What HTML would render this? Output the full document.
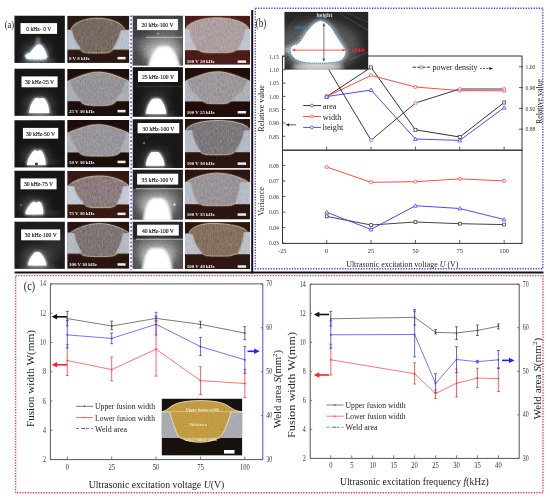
<!DOCTYPE html>
<html><head><meta charset="utf-8"><title>Figure</title>
<style>html,body{margin:0;padding:0;background:#fff;width:550px;height:501px;overflow:hidden;font-family:"Liberation Serif", serif;} svg{display:block;will-change:transform;}</style>
</head><body>
<svg width="550" height="501" viewBox="0 0 550 501" font-family='"Liberation Serif", serif'><defs>
<filter id="blur1" x="-50%" y="-50%" width="200%" height="200%"><feGaussianBlur stdDeviation="1"/></filter>
<filter id="blur2" x="-50%" y="-50%" width="200%" height="200%"><feGaussianBlur stdDeviation="2.2"/></filter>
<filter id="blur3" x="-50%" y="-50%" width="200%" height="200%"><feGaussianBlur stdDeviation="4"/></filter>
<filter id="blur05" x="-50%" y="-50%" width="200%" height="200%"><feGaussianBlur stdDeviation="0.45"/></filter>
<filter id="grain" x="0" y="0" width="100%" height="100%" color-interpolation-filters="sRGB">
  <feTurbulence type="fractalNoise" baseFrequency="0.7" numOctaves="2" seed="7"/>
  <feColorMatrix type="matrix" values="0.33 0.33 0.33 0 0  0.33 0.33 0.33 0 0  0.33 0.33 0.33 0 0  0 0 0 0 1"/>
</filter>
<filter id="grainv" x="0" y="0" width="100%" height="100%" color-interpolation-filters="sRGB">
  <feTurbulence type="fractalNoise" baseFrequency="0.8 0.3" numOctaves="2" seed="11"/>
  <feColorMatrix type="matrix" values="0.33 0.33 0.33 0 0  0.33 0.33 0.33 0 0  0.33 0.33 0.33 0 0  0 0 0 0 1"/>
</filter>
<filter id="noise" x="0" y="0" width="100%" height="100%">
  <feTurbulence type="fractalNoise" baseFrequency="0.9" numOctaves="2" seed="3" result="t"/>
  <feColorMatrix type="matrix" values="0 0 0 0 0.5  0 0 0 0 0.5  0 0 0 0 0.5  0 0 0 0.35 0"/>
</filter>
<clipPath id="cp1"><rect x="14.60" y="15.90" width="50.20" height="47.00"/></clipPath><clipPath id="cp2"><rect x="14.60" y="68.90" width="50.20" height="46.90"/></clipPath><clipPath id="cp3"><rect x="14.60" y="120.30" width="50.20" height="47.00"/></clipPath><clipPath id="cp4"><rect x="14.60" y="170.90" width="50.20" height="46.90"/></clipPath><clipPath id="cp5"><rect x="14.60" y="221.90" width="50.20" height="46.90"/></clipPath><clipPath id="cp6"><rect x="132.90" y="15.90" width="50.00" height="49.40"/></clipPath><clipPath id="cp7"><rect x="132.90" y="67.20" width="50.00" height="49.60"/></clipPath><clipPath id="cp8"><rect x="132.90" y="119.30" width="50.00" height="48.70"/></clipPath><clipPath id="cp9"><rect x="132.90" y="169.90" width="50.00" height="49.50"/></clipPath><clipPath id="cp10"><rect x="132.90" y="221.90" width="50.00" height="46.70"/></clipPath><clipPath id="cp11"><rect x="67.20" y="15.80" width="62.10" height="47.10"/></clipPath><clipPath id="cp12"><rect x="67.20" y="68.90" width="62.10" height="47.10"/></clipPath><clipPath id="cp13"><rect x="67.20" y="120.00" width="62.10" height="47.50"/></clipPath><clipPath id="cp14"><rect x="67.20" y="171.00" width="62.10" height="47.30"/></clipPath><clipPath id="cp15"><rect x="67.20" y="221.70" width="62.10" height="47.10"/></clipPath><clipPath id="cp16"><rect x="185.00" y="15.70" width="65.00" height="49.00"/></clipPath><clipPath id="cp17"><rect x="185.00" y="67.90" width="65.00" height="49.10"/></clipPath><clipPath id="cp18"><rect x="185.00" y="119.00" width="65.00" height="49.30"/></clipPath><clipPath id="cp19"><rect x="185.00" y="169.40" width="65.00" height="50.10"/></clipPath><clipPath id="cp20"><rect x="185.00" y="222.10" width="65.00" height="46.90"/></clipPath><clipPath id="cp21"><rect x="284.30" y="11.80" width="84.10" height="58.00"/></clipPath><clipPath id="cp22"><rect x="161.60" y="398.60" width="80.70" height="57.00"/></clipPath></defs><rect width="550" height="501" fill="#fff"/><g clip-path="url(#cp1)">
<rect x="14.60" y="15.90" width="50.20" height="47.00" fill="#161616"/>
<ellipse cx="37.0" cy="52.0" rx="14.0" ry="10.0" fill="#fff" opacity="0.22" filter="url(#blur3)"/>
<ellipse cx="38.0" cy="61.0" rx="18.0" ry="2.5" fill="#fff" opacity="0.25" filter="url(#blur2)"/>
<ellipse cx="38.0" cy="41.0" rx="2.5" ry="4.0" fill="#fff" opacity="0.35" filter="url(#blur1)"/>
<path d="M25.00,55.50 C24.83,56.28 25.40,57.42 26.00,58.10 C26.60,58.78 26.62,59.30 28.60,59.60 C30.58,59.90 35.13,59.93 37.90,59.90 C40.67,59.87 43.60,59.88 45.20,59.40 C46.80,58.92 47.23,57.92 47.50,57.00 C47.77,56.08 47.27,55.18 46.80,53.90 C46.33,52.62 45.48,50.68 44.70,49.30 C43.92,47.92 43.02,46.47 42.10,45.60 C41.18,44.73 40.15,44.18 39.20,44.10 C38.25,44.02 37.48,44.32 36.40,45.10 C35.32,45.88 33.83,47.58 32.70,48.80 C31.57,50.02 30.55,51.63 29.60,52.40 C28.65,53.17 27.77,52.88 27.00,53.40 C26.23,53.92 25.17,54.72 25.00,55.50 Z" fill="#fff" stroke="#fff" stroke-width="2.2" filter="url(#blur1)" opacity="0.55"/>
<path d="M25.00,55.50 C24.83,56.28 25.40,57.42 26.00,58.10 C26.60,58.78 26.62,59.30 28.60,59.60 C30.58,59.90 35.13,59.93 37.90,59.90 C40.67,59.87 43.60,59.88 45.20,59.40 C46.80,58.92 47.23,57.92 47.50,57.00 C47.77,56.08 47.27,55.18 46.80,53.90 C46.33,52.62 45.48,50.68 44.70,49.30 C43.92,47.92 43.02,46.47 42.10,45.60 C41.18,44.73 40.15,44.18 39.20,44.10 C38.25,44.02 37.48,44.32 36.40,45.10 C35.32,45.88 33.83,47.58 32.70,48.80 C31.57,50.02 30.55,51.63 29.60,52.40 C28.65,53.17 27.77,52.88 27.00,53.40 C26.23,53.92 25.17,54.72 25.00,55.50 Z" fill="#fff" filter="url(#blur05)"/>
<path d="M25.00,55.50 C24.83,56.28 25.40,57.42 26.00,58.10 C26.60,58.78 26.62,59.30 28.60,59.60 C30.58,59.90 35.13,59.93 37.90,59.90 C40.67,59.87 43.60,59.88 45.20,59.40 C46.80,58.92 47.23,57.92 47.50,57.00 C47.77,56.08 47.27,55.18 46.80,53.90 C46.33,52.62 45.48,50.68 44.70,49.30 C43.92,47.92 43.02,46.47 42.10,45.60 C41.18,44.73 40.15,44.18 39.20,44.10 C38.25,44.02 37.48,44.32 36.40,45.10 C35.32,45.88 33.83,47.58 32.70,48.80 C31.57,50.02 30.55,51.63 29.60,52.40 C28.65,53.17 27.77,52.88 27.00,53.40 C26.23,53.92 25.17,54.72 25.00,55.50 Z" fill="none" stroke="#2a8fd8" stroke-width="0.9" stroke-dasharray="1.2 0.6"/>
<rect x="14.60" y="15.90" width="50.20" height="47.00" filter="url(#grain)" style="mix-blend-mode:overlay" opacity="0.35"/>
<rect x="20.5" y="23.1" width="36.6" height="10.8" fill="#fff"/>
<text x="38.8" y="31.0" font-size="6.9" fill="#1a1a1a" text-anchor="middle" textLength="25.0" lengthAdjust="spacingAndGlyphs" stroke="#1a1a1a" stroke-width="0.18">0 kHz- 0 V</text>
</g>
<g clip-path="url(#cp2)">
<rect x="14.60" y="68.90" width="50.20" height="46.90" fill="#161616"/>
<ellipse cx="39.0" cy="105.0" rx="15.0" ry="11.0" fill="#fff" opacity="0.20" filter="url(#blur3)"/>
<ellipse cx="39.0" cy="114.0" rx="18.0" ry="2.5" fill="#fff" opacity="0.20" filter="url(#blur2)"/>
<path d="M29.23,112.10 C29.08,110.84 30.02,107.46 30.84,105.35 C31.65,103.25 33.12,100.70 34.13,99.48 C35.14,98.25 35.98,98.15 36.91,98.01 C37.83,97.86 38.76,98.61 39.68,98.61 C40.60,98.61 41.53,97.86 42.45,98.01 C43.38,98.15 44.29,98.25 45.23,99.48 C46.16,100.70 47.38,103.25 48.05,105.35 C48.72,107.46 49.48,110.84 49.27,112.10 C49.06,113.36 49.69,112.77 46.77,112.90 C43.85,113.03 34.65,113.03 31.73,112.90 C28.81,112.77 29.38,113.36 29.23,112.10 Z" fill="#fff" stroke="#fff" stroke-width="2.2" filter="url(#blur1)" opacity="0.55"/>
<path d="M29.23,112.10 C29.08,110.84 30.02,107.46 30.84,105.35 C31.65,103.25 33.12,100.70 34.13,99.48 C35.14,98.25 35.98,98.15 36.91,98.01 C37.83,97.86 38.76,98.61 39.68,98.61 C40.60,98.61 41.53,97.86 42.45,98.01 C43.38,98.15 44.29,98.25 45.23,99.48 C46.16,100.70 47.38,103.25 48.05,105.35 C48.72,107.46 49.48,110.84 49.27,112.10 C49.06,113.36 49.69,112.77 46.77,112.90 C43.85,113.03 34.65,113.03 31.73,112.90 C28.81,112.77 29.38,113.36 29.23,112.10 Z" fill="#fff" filter="url(#blur05)"/>
<rect x="14.60" y="68.90" width="50.20" height="46.90" filter="url(#grain)" style="mix-blend-mode:overlay" opacity="0.35"/>
<rect x="21.5" y="76.4" width="36.1" height="10.9" fill="#fff"/>
<text x="39.5" y="84.3" font-size="6.9" fill="#1a1a1a" text-anchor="middle" textLength="29.2" lengthAdjust="spacingAndGlyphs" stroke="#1a1a1a" stroke-width="0.18">30 kHz-25 V</text>
</g>
<g clip-path="url(#cp3)">
<rect x="14.60" y="120.30" width="50.20" height="47.00" fill="#141414"/>
<ellipse cx="36.0" cy="157.0" rx="14.0" ry="10.0" fill="#fff" opacity="0.20" filter="url(#blur3)"/>
<ellipse cx="45.0" cy="162.0" rx="16.0" ry="2.0" fill="#fff" opacity="0.12" filter="url(#blur2)"/>
<path d="M27.03,164.10 C26.94,162.86 28.06,159.52 29.02,157.45 C29.98,155.37 31.77,152.85 32.79,151.64 C33.81,150.43 34.35,150.27 35.13,150.19 C35.91,150.12 36.69,151.19 37.48,151.19 C38.26,151.19 39.04,150.12 39.82,150.19 C40.60,150.27 41.34,150.43 42.16,151.64 C42.98,152.85 44.15,155.37 44.75,157.45 C45.35,159.52 46.02,162.86 45.77,164.10 C45.53,165.34 45.98,164.77 43.27,164.90 C40.57,165.03 32.23,165.03 29.53,164.90 C26.82,164.77 27.11,165.34 27.03,164.10 Z" fill="#fff" stroke="#fff" stroke-width="2.2" filter="url(#blur1)" opacity="0.55"/>
<path d="M27.03,164.10 C26.94,162.86 28.06,159.52 29.02,157.45 C29.98,155.37 31.77,152.85 32.79,151.64 C33.81,150.43 34.35,150.27 35.13,150.19 C35.91,150.12 36.69,151.19 37.48,151.19 C38.26,151.19 39.04,150.12 39.82,150.19 C40.60,150.27 41.34,150.43 42.16,151.64 C42.98,152.85 44.15,155.37 44.75,157.45 C45.35,159.52 46.02,162.86 45.77,164.10 C45.53,165.34 45.98,164.77 43.27,164.90 C40.57,165.03 32.23,165.03 29.53,164.90 C26.82,164.77 27.11,165.34 27.03,164.10 Z" fill="#fff" filter="url(#blur05)"/>
<ellipse cx="36.4" cy="164.0" rx="1.5" ry="1.6" fill="#333" filter="url(#blur05)"/>
<rect x="14.60" y="120.30" width="50.20" height="47.00" filter="url(#grain)" style="mix-blend-mode:overlay" opacity="0.35"/>
<rect x="22.9" y="127.9" width="35.3" height="10.8" fill="#fff"/>
<text x="40.5" y="135.8" font-size="6.9" fill="#1a1a1a" text-anchor="middle" textLength="29.2" lengthAdjust="spacingAndGlyphs" stroke="#1a1a1a" stroke-width="0.18">30 kHz-50 V</text>
</g>
<g clip-path="url(#cp4)">
<rect x="14.60" y="170.90" width="50.20" height="46.90" fill="#161616"/>
<ellipse cx="34.0" cy="207.0" rx="14.0" ry="10.0" fill="#fff" opacity="0.20" filter="url(#blur3)"/>
<ellipse cx="44.0" cy="213.0" rx="18.0" ry="2.0" fill="#fff" opacity="0.14" filter="url(#blur2)"/>
<circle cx="21.1" cy="204.8" r="0.9" fill="#fff" opacity="0.5" filter="url(#blur05)"/>
<path d="M25.36,213.60 C25.31,212.52 26.53,209.71 27.58,207.92 C28.63,206.14 30.57,203.95 31.63,202.90 C32.70,201.85 33.20,201.69 33.98,201.64 C34.76,201.60 35.54,202.64 36.32,202.64 C37.10,202.64 37.88,201.60 38.66,201.64 C39.45,201.69 40.31,201.85 41.01,202.90 C41.70,203.95 42.47,206.14 42.84,207.92 C43.21,209.71 43.59,212.52 43.24,213.60 C42.90,214.68 43.31,214.27 40.74,214.40 C38.18,214.53 30.42,214.53 27.86,214.40 C25.29,214.27 25.40,214.68 25.36,213.60 Z" fill="#fff" stroke="#fff" stroke-width="2.2" filter="url(#blur1)" opacity="0.55"/>
<path d="M25.36,213.60 C25.31,212.52 26.53,209.71 27.58,207.92 C28.63,206.14 30.57,203.95 31.63,202.90 C32.70,201.85 33.20,201.69 33.98,201.64 C34.76,201.60 35.54,202.64 36.32,202.64 C37.10,202.64 37.88,201.60 38.66,201.64 C39.45,201.69 40.31,201.85 41.01,202.90 C41.70,203.95 42.47,206.14 42.84,207.92 C43.21,209.71 43.59,212.52 43.24,213.60 C42.90,214.68 43.31,214.27 40.74,214.40 C38.18,214.53 30.42,214.53 27.86,214.40 C25.29,214.27 25.40,214.68 25.36,213.60 Z" fill="#fff" filter="url(#blur05)"/>
<rect x="14.60" y="170.90" width="50.20" height="46.90" filter="url(#grain)" style="mix-blend-mode:overlay" opacity="0.35"/>
<rect x="20.5" y="178.4" width="36.1" height="10.9" fill="#fff"/>
<text x="38.5" y="186.4" font-size="6.9" fill="#1a1a1a" text-anchor="middle" textLength="29.2" lengthAdjust="spacingAndGlyphs" stroke="#1a1a1a" stroke-width="0.18">30 kHz-75 V</text>
</g>
<g clip-path="url(#cp5)">
<rect x="14.60" y="221.90" width="50.20" height="46.90" fill="#1c1c1c"/>
<ellipse cx="37.0" cy="258.0" rx="15.0" ry="11.0" fill="#fff" opacity="0.22" filter="url(#blur3)"/>
<ellipse cx="38.0" cy="267.0" rx="18.0" ry="2.5" fill="#fff" opacity="0.22" filter="url(#blur2)"/>
<ellipse cx="55.0" cy="245.0" rx="10.0" ry="14.0" fill="#fff" opacity="0.08" filter="url(#blur3)"/>
<path d="M27.99,264.60 C27.91,263.48 29.05,260.54 30.02,258.69 C31.00,256.84 32.91,254.57 33.84,253.48 C34.77,252.40 35.03,252.40 35.62,252.18 C36.22,251.96 36.81,252.18 37.41,252.18 C38.00,252.18 38.60,251.96 39.19,252.18 C39.79,252.40 40.09,252.40 40.98,253.48 C41.86,254.57 43.62,256.84 44.51,258.69 C45.40,260.54 46.43,263.48 46.31,264.60 C46.19,265.72 46.45,265.27 43.81,265.40 C41.17,265.53 33.13,265.53 30.49,265.40 C27.85,265.27 28.07,265.72 27.99,264.60 Z" fill="#fff" stroke="#fff" stroke-width="2.2" filter="url(#blur1)" opacity="0.55"/>
<path d="M27.99,264.60 C27.91,263.48 29.05,260.54 30.02,258.69 C31.00,256.84 32.91,254.57 33.84,253.48 C34.77,252.40 35.03,252.40 35.62,252.18 C36.22,251.96 36.81,252.18 37.41,252.18 C38.00,252.18 38.60,251.96 39.19,252.18 C39.79,252.40 40.09,252.40 40.98,253.48 C41.86,254.57 43.62,256.84 44.51,258.69 C45.40,260.54 46.43,263.48 46.31,264.60 C46.19,265.72 46.45,265.27 43.81,265.40 C41.17,265.53 33.13,265.53 30.49,265.40 C27.85,265.27 28.07,265.72 27.99,264.60 Z" fill="#fff" filter="url(#blur05)"/>
<rect x="14.60" y="221.90" width="50.20" height="46.90" filter="url(#grain)" style="mix-blend-mode:overlay" opacity="0.35"/>
<rect x="21.1" y="229.4" width="39.1" height="10.9" fill="#fff"/>
<text x="40.7" y="237.4" font-size="6.9" fill="#1a1a1a" text-anchor="middle" textLength="32.0" lengthAdjust="spacingAndGlyphs" stroke="#1a1a1a" stroke-width="0.18">30 kHz-100 V</text>
</g>
<g clip-path="url(#cp6)">
<rect x="132.90" y="15.90" width="50.00" height="49.40" fill="#3e3e3e"/>
<rect x="132.90" y="37.30" width="50.00" height="28.00" fill="#484848"/>
<ellipse cx="163.0" cy="55.0" rx="17.0" ry="12.0" fill="#fff" opacity="0.60" filter="url(#blur3)"/>
<ellipse cx="160.0" cy="46.0" rx="22.0" ry="12.0" fill="#fff" opacity="0.30" filter="url(#blur3)"/>
<ellipse cx="170.0" cy="30.0" rx="14.0" ry="10.0" fill="#fff" opacity="0.12" filter="url(#blur3)"/>
<rect x="146.0" y="36.7" width="37.0" height="1.2" fill="#fff" opacity="0.45" filter="url(#blur05)"/>
<circle cx="158" cy="33.5" r="0.8" fill="#fff" opacity="0.7" filter="url(#blur05)"/>
<path d="M149.00,65.90 C149.08,64.24 150.67,59.58 152.00,56.75 C153.33,53.92 155.58,50.58 157.00,48.95 C158.42,47.33 159.33,47.33 160.50,47.00 C161.67,46.67 162.83,47.00 164.00,47.00 C165.17,47.00 166.33,46.67 167.50,47.00 C168.67,47.33 169.58,47.33 171.00,48.95 C172.42,50.58 174.67,53.92 176.00,56.75 C177.33,59.58 178.92,64.24 179.00,65.90 C179.08,67.56 181.08,66.57 176.50,66.70 C171.92,66.83 156.08,66.83 151.50,66.70 C146.92,66.57 148.92,67.56 149.00,65.90 Z" fill="#fff" stroke="#fff" stroke-width="2.2" filter="url(#blur1)" opacity="0.55"/>
<path d="M149.00,65.90 C149.08,64.24 150.67,59.58 152.00,56.75 C153.33,53.92 155.58,50.58 157.00,48.95 C158.42,47.33 159.33,47.33 160.50,47.00 C161.67,46.67 162.83,47.00 164.00,47.00 C165.17,47.00 166.33,46.67 167.50,47.00 C168.67,47.33 169.58,47.33 171.00,48.95 C172.42,50.58 174.67,53.92 176.00,56.75 C177.33,59.58 178.92,64.24 179.00,65.90 C179.08,67.56 181.08,66.57 176.50,66.70 C171.92,66.83 156.08,66.83 151.50,66.70 C146.92,66.57 148.92,67.56 149.00,65.90 Z" fill="#fff" filter="url(#blur1)"/>
<rect x="132.90" y="15.90" width="50.00" height="49.40" filter="url(#grain)" style="mix-blend-mode:overlay" opacity="0.35"/>
<rect x="137.1" y="19.0" width="40.8" height="11.1" fill="#fff"/>
<text x="157.5" y="27.1" font-size="6.9" fill="#1a1a1a" text-anchor="middle" textLength="32.0" lengthAdjust="spacingAndGlyphs" stroke="#1a1a1a" stroke-width="0.18">20 kHz-100 V</text>
</g>
<g clip-path="url(#cp7)">
<rect x="132.90" y="67.20" width="50.00" height="49.60" fill="#161616"/>
<ellipse cx="156.0" cy="106.0" rx="13.0" ry="10.0" fill="#fff" opacity="0.18" filter="url(#blur3)"/>
<ellipse cx="158.0" cy="115.0" rx="18.0" ry="2.5" fill="#fff" opacity="0.20" filter="url(#blur2)"/>
<ellipse cx="158.0" cy="92.0" rx="14.0" ry="8.0" fill="#fff" opacity="0.05" filter="url(#blur3)"/>
<rect x="136.0" y="85.9" width="47.0" height="1.2" fill="#fff" opacity="0.1" filter="url(#blur05)"/>
<path d="M146.16,113.10 C146.02,111.81 146.98,108.33 147.82,106.17 C148.66,104.01 150.20,101.40 151.18,100.14 C152.16,98.89 152.86,98.89 153.71,98.63 C154.55,98.38 155.39,98.63 156.24,98.63 C157.08,98.63 157.92,98.38 158.77,98.63 C159.61,98.89 160.33,98.89 161.30,100.14 C162.26,101.40 163.75,104.01 164.56,106.17 C165.37,108.33 166.29,111.81 166.14,113.10 C165.98,114.39 166.55,113.77 163.64,113.90 C160.73,114.03 151.57,114.03 148.66,113.90 C145.75,113.77 146.30,114.39 146.16,113.10 Z" fill="#fff" stroke="#fff" stroke-width="2.2" filter="url(#blur1)" opacity="0.55"/>
<path d="M146.16,113.10 C146.02,111.81 146.98,108.33 147.82,106.17 C148.66,104.01 150.20,101.40 151.18,100.14 C152.16,98.89 152.86,98.89 153.71,98.63 C154.55,98.38 155.39,98.63 156.24,98.63 C157.08,98.63 157.92,98.38 158.77,98.63 C159.61,98.89 160.33,98.89 161.30,100.14 C162.26,101.40 163.75,104.01 164.56,106.17 C165.37,108.33 166.29,111.81 166.14,113.10 C165.98,114.39 166.55,113.77 163.64,113.90 C160.73,114.03 151.57,114.03 148.66,113.90 C145.75,113.77 146.30,114.39 146.16,113.10 Z" fill="#fff" filter="url(#blur05)"/>
<rect x="132.90" y="67.20" width="50.00" height="49.60" filter="url(#grain)" style="mix-blend-mode:overlay" opacity="0.35"/>
<rect x="138.0" y="71.0" width="40.0" height="11.0" fill="#fff"/>
<text x="158.0" y="79.0" font-size="6.9" fill="#1a1a1a" text-anchor="middle" textLength="32.0" lengthAdjust="spacingAndGlyphs" stroke="#1a1a1a" stroke-width="0.18">25 kHz-100 V</text>
</g>
<g clip-path="url(#cp8)">
<rect x="132.90" y="119.30" width="50.00" height="48.70" fill="#181818"/>
<ellipse cx="155.0" cy="158.0" rx="13.0" ry="9.0" fill="#fff" opacity="0.18" filter="url(#blur3)"/>
<ellipse cx="156.0" cy="167.0" rx="18.0" ry="2.5" fill="#fff" opacity="0.20" filter="url(#blur2)"/>
<circle cx="144" cy="143" r="1.2" fill="#fff" opacity="0.35" filter="url(#blur05)"/>
<circle cx="147" cy="137" r="0.6" fill="#fff" opacity="0.4" filter="url(#blur05)"/>
<path d="M146.05,164.90 C145.85,163.75 146.63,160.71 147.32,158.80 C148.00,156.90 149.31,154.56 150.19,153.45 C151.07,152.33 151.80,152.33 152.61,152.11 C153.42,151.88 154.22,152.11 155.03,152.11 C155.84,152.11 156.64,151.88 157.45,152.11 C158.26,152.33 158.95,152.33 159.87,153.45 C160.79,154.56 162.22,156.90 162.99,158.80 C163.75,160.71 164.62,163.75 164.45,164.90 C164.27,166.05 164.59,165.57 161.95,165.70 C159.30,165.83 151.20,165.83 148.55,165.70 C145.91,165.57 146.26,166.05 146.05,164.90 Z" fill="#fff" stroke="#fff" stroke-width="2.2" filter="url(#blur1)" opacity="0.55"/>
<path d="M146.05,164.90 C145.85,163.75 146.63,160.71 147.32,158.80 C148.00,156.90 149.31,154.56 150.19,153.45 C151.07,152.33 151.80,152.33 152.61,152.11 C153.42,151.88 154.22,152.11 155.03,152.11 C155.84,152.11 156.64,151.88 157.45,152.11 C158.26,152.33 158.95,152.33 159.87,153.45 C160.79,154.56 162.22,156.90 162.99,158.80 C163.75,160.71 164.62,163.75 164.45,164.90 C164.27,166.05 164.59,165.57 161.95,165.70 C159.30,165.83 151.20,165.83 148.55,165.70 C145.91,165.57 146.26,166.05 146.05,164.90 Z" fill="#fff" filter="url(#blur05)"/>
<rect x="132.90" y="119.30" width="50.00" height="48.70" filter="url(#grain)" style="mix-blend-mode:overlay" opacity="0.35"/>
<rect x="137.6" y="123.0" width="41.7" height="10.2" fill="#fff"/>
<text x="158.4" y="130.6" font-size="6.9" fill="#1a1a1a" text-anchor="middle" textLength="32.0" lengthAdjust="spacingAndGlyphs" stroke="#1a1a1a" stroke-width="0.18">30 kHz-100 V</text>
</g>
<g clip-path="url(#cp9)">
<rect x="132.90" y="169.90" width="50.00" height="49.50" fill="#1e1e1e"/>
<rect x="132.90" y="188.70" width="50.00" height="30.70" fill="#4c4c4c"/>
<ellipse cx="157.0" cy="208.0" rx="16.0" ry="11.0" fill="#fff" opacity="0.60" filter="url(#blur3)"/>
<ellipse cx="157.0" cy="200.0" rx="22.0" ry="12.0" fill="#fff" opacity="0.30" filter="url(#blur3)"/>
<rect x="136.0" y="188.1" width="47.0" height="1.2" fill="#fff" opacity="0.55" filter="url(#blur05)"/>
<circle cx="174.5" cy="204.5" r="1.1" fill="#fff" opacity="0.9" filter="url(#blur05)"/>
<path d="M144.00,219.40 C143.93,217.62 145.10,212.55 146.10,209.50 C147.10,206.45 148.72,202.85 150.00,201.10 C151.28,199.35 152.50,199.35 153.75,199.00 C155.00,198.65 156.25,199.00 157.50,199.00 C158.75,199.00 160.00,198.65 161.25,199.00 C162.50,199.35 163.72,199.35 165.00,201.10 C166.28,202.85 167.90,206.45 168.90,209.50 C169.90,212.55 171.07,217.62 171.00,219.40 C170.93,221.18 172.58,220.07 168.50,220.20 C164.42,220.33 150.58,220.33 146.50,220.20 C142.42,220.07 144.07,221.18 144.00,219.40 Z" fill="#fff" stroke="#fff" stroke-width="2.2" filter="url(#blur1)" opacity="0.55"/>
<path d="M144.00,219.40 C143.93,217.62 145.10,212.55 146.10,209.50 C147.10,206.45 148.72,202.85 150.00,201.10 C151.28,199.35 152.50,199.35 153.75,199.00 C155.00,198.65 156.25,199.00 157.50,199.00 C158.75,199.00 160.00,198.65 161.25,199.00 C162.50,199.35 163.72,199.35 165.00,201.10 C166.28,202.85 167.90,206.45 168.90,209.50 C169.90,212.55 171.07,217.62 171.00,219.40 C170.93,221.18 172.58,220.07 168.50,220.20 C164.42,220.33 150.58,220.33 146.50,220.20 C142.42,220.07 144.07,221.18 144.00,219.40 Z" fill="#fff" filter="url(#blur1)"/>
<rect x="132.90" y="169.90" width="50.00" height="49.50" filter="url(#grain)" style="mix-blend-mode:overlay" opacity="0.35"/>
<rect x="137.1" y="173.7" width="41.1" height="10.9" fill="#fff"/>
<text x="157.6" y="181.6" font-size="6.9" fill="#1a1a1a" text-anchor="middle" textLength="32.0" lengthAdjust="spacingAndGlyphs" stroke="#1a1a1a" stroke-width="0.18">35 kHz-100 V</text>
</g>
<g clip-path="url(#cp10)">
<rect x="132.90" y="221.90" width="50.00" height="46.70" fill="#262626"/>
<rect x="132.90" y="239.20" width="50.00" height="29.40" fill="#525252"/>
<ellipse cx="157.0" cy="258.0" rx="16.0" ry="11.0" fill="#fff" opacity="0.60" filter="url(#blur3)"/>
<ellipse cx="158.0" cy="250.0" rx="22.0" ry="12.0" fill="#fff" opacity="0.30" filter="url(#blur3)"/>
<rect x="136.0" y="238.6" width="47.0" height="1.2" fill="#fff" opacity="0.55" filter="url(#blur05)"/>
<path d="M143.00,268.90 C142.93,267.16 144.10,262.23 145.10,259.25 C146.10,256.27 147.68,252.76 149.00,251.05 C150.32,249.34 151.67,249.34 153.00,249.00 C154.33,248.66 155.67,249.00 157.00,249.00 C158.33,249.00 159.67,248.66 161.00,249.00 C162.33,249.34 163.64,249.34 165.00,251.05 C166.36,252.76 168.09,256.27 169.17,259.25 C170.26,262.23 171.53,267.16 171.50,268.90 C171.47,270.64 173.33,269.57 169.00,269.70 C164.67,269.83 149.83,269.83 145.50,269.70 C141.17,269.57 143.07,270.64 143.00,268.90 Z" fill="#fff" stroke="#fff" stroke-width="2.2" filter="url(#blur1)" opacity="0.55"/>
<path d="M143.00,268.90 C142.93,267.16 144.10,262.23 145.10,259.25 C146.10,256.27 147.68,252.76 149.00,251.05 C150.32,249.34 151.67,249.34 153.00,249.00 C154.33,248.66 155.67,249.00 157.00,249.00 C158.33,249.00 159.67,248.66 161.00,249.00 C162.33,249.34 163.64,249.34 165.00,251.05 C166.36,252.76 168.09,256.27 169.17,259.25 C170.26,262.23 171.53,267.16 171.50,268.90 C171.47,270.64 173.33,269.57 169.00,269.70 C164.67,269.83 149.83,269.83 145.50,269.70 C141.17,269.57 143.07,270.64 143.00,268.90 Z" fill="#fff" filter="url(#blur1)"/>
<rect x="132.90" y="221.90" width="50.00" height="46.70" filter="url(#grain)" style="mix-blend-mode:overlay" opacity="0.35"/>
<rect x="137.1" y="224.7" width="41.7" height="10.9" fill="#fff"/>
<text x="157.9" y="232.6" font-size="6.9" fill="#1a1a1a" text-anchor="middle" textLength="32.0" lengthAdjust="spacingAndGlyphs" stroke="#1a1a1a" stroke-width="0.18">40 kHz-100 V</text>
</g>
<g clip-path="url(#cp11)">
<rect x="67.20" y="15.80" width="62.10" height="47.10" fill="#2a1812"/>
<polygon points="67.20,29.80 129.30,29.80 129.30,49.50 67.20,49.50" fill="#b8c0cc"/>
<path d="M71.00,29.80 C72.07,23.42 84.38,18.20 97.75,18.20 C111.12,18.20 123.43,23.42 124.50,29.80 L120.00,29.80 C119.00,39.65 113.20,46.50 111.70,49.50 L113.00,49.50 C110.36,53.00 106.40,53.00 96.50,53.00 C86.60,53.00 82.64,53.00 80.00,49.50 L82.00,49.50 C80.50,46.50 73.50,39.65 72.50,29.80 Z" fill="#766a62" filter="url(#blur1)"/>
<path d="M71.00,29.80 C72.07,23.42 84.38,18.20 97.75,18.20 C111.12,18.20 123.43,23.42 124.50,29.80 L120.00,29.80 C119.00,39.65 113.20,46.50 111.70,49.50 L113.00,49.50 C110.36,53.00 106.40,53.00 96.50,53.00 C86.60,53.00 82.64,53.00 80.00,49.50 L82.00,49.50 C80.50,46.50 73.50,39.65 72.50,29.80 Z" fill="#766a62"/>
<path d="M71.00,29.80 C72.07,23.42 84.38,18.20 97.75,18.20 C111.12,18.20 123.43,23.42 124.50,29.80" fill="none" stroke="#d4bc98" stroke-width="0.8"/>
<path d="M111.70,49.50 L113.00,49.50 C110.36,53.00 106.40,53.00 96.50,53.00 C86.60,53.00 82.64,53.00 80.00,49.50" fill="none" stroke="#d4bc98" stroke-width="0.7"/>
<line x1="67.20" y1="49.80" x2="80.00" y2="49.80" stroke="#d4bc98" stroke-width="0.5" opacity="0.6"/>
<line x1="113.00" y1="49.80" x2="129.30" y2="49.80" stroke="#d4bc98" stroke-width="0.5" opacity="0.6"/>
<rect x="67.20" y="15.80" width="62.10" height="47.10" filter="url(#grainv)" style="mix-blend-mode:overlay" opacity="0.4"/>
<text x="69.0" y="59.7" font-size="4.9" fill="#f4f4f4" text-anchor="start" font-weight="bold" >0 V 0 kHz</text>
<rect x="117.50" y="56.90" width="8.07" height="2.5" fill="#eee"/>
</g>
<g clip-path="url(#cp12)">
<rect x="67.20" y="68.90" width="62.10" height="47.10" fill="#1c0e0b"/>
<polygon points="67.20,80.80 129.30,80.80 129.30,101.00 67.20,101.00" fill="#aaaeb6"/>
<path d="M68.80,80.80 C80.72,76.02 89.66,72.10 98.60,72.10 C107.54,72.10 116.48,76.02 128.40,80.80 L125.00,80.80 C124.00,90.90 115.50,98.00 114.00,101.00 L116.00,101.00 C113.16,105.40 108.90,105.40 98.25,105.40 C87.60,105.40 83.34,105.40 80.50,101.00 L82.00,101.00 C80.50,98.00 72.00,90.90 71.00,80.80 Z" fill="#979499" filter="url(#blur1)"/>
<path d="M68.80,80.80 C80.72,76.02 89.66,72.10 98.60,72.10 C107.54,72.10 116.48,76.02 128.40,80.80 L125.00,80.80 C124.00,90.90 115.50,98.00 114.00,101.00 L116.00,101.00 C113.16,105.40 108.90,105.40 98.25,105.40 C87.60,105.40 83.34,105.40 80.50,101.00 L82.00,101.00 C80.50,98.00 72.00,90.90 71.00,80.80 Z" fill="#979499"/>
<path d="M68.80,80.80 C80.72,76.02 89.66,72.10 98.60,72.10 C107.54,72.10 116.48,76.02 128.40,80.80" fill="none" stroke="#d4bc98" stroke-width="0.8"/>
<path d="M114.00,101.00 L116.00,101.00 C113.16,105.40 108.90,105.40 98.25,105.40 C87.60,105.40 83.34,105.40 80.50,101.00" fill="none" stroke="#d4bc98" stroke-width="0.7"/>
<line x1="67.20" y1="101.30" x2="80.50" y2="101.30" stroke="#d4bc98" stroke-width="0.5" opacity="0.6"/>
<line x1="116.00" y1="101.30" x2="129.30" y2="101.30" stroke="#d4bc98" stroke-width="0.5" opacity="0.6"/>
<rect x="67.20" y="68.90" width="62.10" height="47.10" filter="url(#grainv)" style="mix-blend-mode:overlay" opacity="0.4"/>
<text x="69.0" y="112.7" font-size="4.9" fill="#f4f4f4" text-anchor="start" font-weight="bold" >25 V 30 kHz</text>
<rect x="117.50" y="109.90" width="8.07" height="2.5" fill="#eee"/>
</g>
<g clip-path="url(#cp13)">
<rect x="67.20" y="120.00" width="62.10" height="47.50" fill="#1c0d0a"/>
<polygon points="67.20,132.50 129.30,132.50 129.30,152.30 67.20,152.30" fill="#acb0b8"/>
<path d="M68.50,132.50 C80.40,128.21 89.33,124.70 98.25,124.70 C107.17,124.70 116.10,128.21 128.00,132.50 L126.00,132.50 C125.00,142.40 119.50,149.30 118.00,152.30 L120.00,152.30 C116.72,156.00 111.80,156.00 99.50,156.00 C87.20,156.00 82.28,156.00 79.00,152.30 L80.00,152.30 C78.50,149.30 71.00,142.40 70.00,132.50 Z" fill="#98969c" filter="url(#blur1)"/>
<path d="M68.50,132.50 C80.40,128.21 89.33,124.70 98.25,124.70 C107.17,124.70 116.10,128.21 128.00,132.50 L126.00,132.50 C125.00,142.40 119.50,149.30 118.00,152.30 L120.00,152.30 C116.72,156.00 111.80,156.00 99.50,156.00 C87.20,156.00 82.28,156.00 79.00,152.30 L80.00,152.30 C78.50,149.30 71.00,142.40 70.00,132.50 Z" fill="#98969c"/>
<path d="M68.50,132.50 C80.40,128.21 89.33,124.70 98.25,124.70 C107.17,124.70 116.10,128.21 128.00,132.50" fill="none" stroke="#d4bc98" stroke-width="0.8"/>
<path d="M118.00,152.30 L120.00,152.30 C116.72,156.00 111.80,156.00 99.50,156.00 C87.20,156.00 82.28,156.00 79.00,152.30" fill="none" stroke="#d4bc98" stroke-width="0.7"/>
<line x1="67.20" y1="152.60" x2="79.00" y2="152.60" stroke="#d4bc98" stroke-width="0.5" opacity="0.6"/>
<line x1="120.00" y1="152.60" x2="129.30" y2="152.60" stroke="#d4bc98" stroke-width="0.5" opacity="0.6"/>
<rect x="67.20" y="120.00" width="62.10" height="47.50" filter="url(#grainv)" style="mix-blend-mode:overlay" opacity="0.4"/>
<text x="69.0" y="163.5" font-size="4.9" fill="#f4f4f4" text-anchor="start" font-weight="bold" >50 V 30 kHz</text>
<rect x="117.50" y="160.70" width="8.07" height="2.5" fill="#eee"/>
</g>
<g clip-path="url(#cp14)">
<rect x="67.20" y="171.00" width="62.10" height="47.30" fill="#361912"/>
<polygon points="67.20,185.50 129.30,185.50 129.30,204.20 67.20,204.20" fill="#c4cad8"/>
<path d="M68.70,185.50 C74.82,179.80 87.06,176.00 99.30,176.00 C110.94,176.00 122.58,179.80 128.40,185.50 L122.50,185.50 C121.50,194.85 117.50,201.20 116.00,204.20 L116.50,204.20 C113.94,207.50 110.10,207.50 100.50,207.50 C90.90,207.50 87.06,207.50 84.50,204.20 L84.70,204.20 C83.20,201.20 75.50,194.85 74.50,185.50 Z" fill="#8c7c7e" filter="url(#blur1)"/>
<path d="M68.70,185.50 C74.82,179.80 87.06,176.00 99.30,176.00 C110.94,176.00 122.58,179.80 128.40,185.50 L122.50,185.50 C121.50,194.85 117.50,201.20 116.00,204.20 L116.50,204.20 C113.94,207.50 110.10,207.50 100.50,207.50 C90.90,207.50 87.06,207.50 84.50,204.20 L84.70,204.20 C83.20,201.20 75.50,194.85 74.50,185.50 Z" fill="#8c7c7e"/>
<path d="M68.70,185.50 C74.82,179.80 87.06,176.00 99.30,176.00 C110.94,176.00 122.58,179.80 128.40,185.50" fill="none" stroke="#d4bc98" stroke-width="0.8"/>
<path d="M116.00,204.20 L116.50,204.20 C113.94,207.50 110.10,207.50 100.50,207.50 C90.90,207.50 87.06,207.50 84.50,204.20" fill="none" stroke="#d4bc98" stroke-width="0.7"/>
<line x1="67.20" y1="204.50" x2="84.50" y2="204.50" stroke="#d4bc98" stroke-width="0.5" opacity="0.6"/>
<line x1="116.50" y1="204.50" x2="129.30" y2="204.50" stroke="#d4bc98" stroke-width="0.5" opacity="0.6"/>
<rect x="67.20" y="171.00" width="62.10" height="47.30" filter="url(#grainv)" style="mix-blend-mode:overlay" opacity="0.4"/>
<text x="69.0" y="215.4" font-size="4.9" fill="#f4f4f4" text-anchor="start" font-weight="bold" >75 V 30 kHz</text>
<rect x="117.50" y="212.60" width="8.07" height="2.5" fill="#eee"/>
</g>
<g clip-path="url(#cp15)">
<rect x="67.20" y="221.70" width="62.10" height="47.10" fill="#2a1410"/>
<polygon points="67.20,232.50 129.30,232.50 129.30,253.50 67.20,253.50" fill="#b4bac4"/>
<path d="M70.50,232.50 C79.20,227.16 89.35,223.60 99.50,223.60 C109.65,223.60 119.80,227.16 128.50,232.50 L122.50,232.50 C121.50,243.00 116.40,250.50 114.90,253.50 L117.40,253.50 C114.45,256.50 110.02,256.50 98.95,256.50 C87.88,256.50 83.45,256.50 80.50,253.50 L83.00,253.50 C81.50,250.50 75.80,243.00 74.80,232.50 Z" fill="#7e7674" filter="url(#blur1)"/>
<path d="M70.50,232.50 C79.20,227.16 89.35,223.60 99.50,223.60 C109.65,223.60 119.80,227.16 128.50,232.50 L122.50,232.50 C121.50,243.00 116.40,250.50 114.90,253.50 L117.40,253.50 C114.45,256.50 110.02,256.50 98.95,256.50 C87.88,256.50 83.45,256.50 80.50,253.50 L83.00,253.50 C81.50,250.50 75.80,243.00 74.80,232.50 Z" fill="#7e7674"/>
<path d="M70.50,232.50 C79.20,227.16 89.35,223.60 99.50,223.60 C109.65,223.60 119.80,227.16 128.50,232.50" fill="none" stroke="#d4bc98" stroke-width="0.8"/>
<path d="M114.90,253.50 L117.40,253.50 C114.45,256.50 110.02,256.50 98.95,256.50 C87.88,256.50 83.45,256.50 80.50,253.50" fill="none" stroke="#d4bc98" stroke-width="0.7"/>
<line x1="67.20" y1="253.80" x2="80.50" y2="253.80" stroke="#d4bc98" stroke-width="0.5" opacity="0.6"/>
<line x1="117.40" y1="253.80" x2="129.30" y2="253.80" stroke="#d4bc98" stroke-width="0.5" opacity="0.6"/>
<rect x="67.20" y="221.70" width="62.10" height="47.10" filter="url(#grainv)" style="mix-blend-mode:overlay" opacity="0.4"/>
<text x="69.0" y="266.0" font-size="4.9" fill="#f4f4f4" text-anchor="start" font-weight="bold" >100 V 30 kHz</text>
<rect x="117.50" y="263.20" width="8.07" height="2.5" fill="#eee"/>
</g>
<g clip-path="url(#cp16)">
<rect x="185.00" y="15.70" width="65.00" height="49.00" fill="#4a1c1a"/>
<polygon points="185.00,29.00 250.00,29.00 250.00,50.00 185.00,50.00" fill="#c0c4d0"/>
<path d="M186.00,29.00 C187.25,22.89 201.62,17.90 217.25,17.90 C232.88,17.90 247.25,22.89 248.50,29.00 L244.80,29.00 C243.80,39.50 238.50,47.00 237.00,50.00 L235.70,50.00 C232.76,52.60 228.36,52.60 217.35,52.60 C206.34,52.60 201.94,52.60 199.00,50.00 L197.70,50.00 C196.20,47.00 190.90,39.50 189.90,29.00 Z" fill="#ad9f9f" filter="url(#blur1)"/>
<path d="M186.00,29.00 C187.25,22.89 201.62,17.90 217.25,17.90 C232.88,17.90 247.25,22.89 248.50,29.00 L244.80,29.00 C243.80,39.50 238.50,47.00 237.00,50.00 L235.70,50.00 C232.76,52.60 228.36,52.60 217.35,52.60 C206.34,52.60 201.94,52.60 199.00,50.00 L197.70,50.00 C196.20,47.00 190.90,39.50 189.90,29.00 Z" fill="#ad9f9f"/>
<path d="M186.00,29.00 C187.25,22.89 201.62,17.90 217.25,17.90 C232.88,17.90 247.25,22.89 248.50,29.00" fill="none" stroke="#d4bc98" stroke-width="0.8"/>
<path d="M237.00,50.00 L235.70,50.00 C232.76,52.60 228.36,52.60 217.35,52.60 C206.34,52.60 201.94,52.60 199.00,50.00" fill="none" stroke="#d4bc98" stroke-width="0.7"/>
<line x1="185.00" y1="50.30" x2="199.00" y2="50.30" stroke="#d4bc98" stroke-width="0.5" opacity="0.6"/>
<line x1="235.70" y1="50.30" x2="250.00" y2="50.30" stroke="#d4bc98" stroke-width="0.5" opacity="0.6"/>
<rect x="185.00" y="15.70" width="65.00" height="49.00" filter="url(#grainv)" style="mix-blend-mode:overlay" opacity="0.4"/>
<text x="186.8" y="63.2" font-size="4.9" fill="#f4f4f4" text-anchor="start" font-weight="bold" >100 V 20 kHz</text>
<rect x="237.65" y="60.40" width="8.45" height="2.5" fill="#eee"/>
</g>
<g clip-path="url(#cp17)">
<rect x="185.00" y="67.90" width="65.00" height="49.10" fill="#200d0a"/>
<polygon points="185.00,81.00 250.00,81.00 250.00,101.30 185.00,101.30" fill="#aeb2ba"/>
<path d="M185.50,81.00 C198.30,75.94 207.90,71.80 217.50,71.80 C227.10,71.80 236.70,75.94 249.50,81.00 L246.00,81.00 C245.00,91.15 231.90,98.30 230.40,101.30 L230.40,101.30 C228.26,103.60 225.04,103.60 217.00,103.60 C208.96,103.60 205.74,103.60 203.60,101.30 L203.60,101.30 C202.10,98.30 189.00,91.15 188.00,81.00 Z" fill="#9c989c" filter="url(#blur1)"/>
<path d="M185.50,81.00 C198.30,75.94 207.90,71.80 217.50,71.80 C227.10,71.80 236.70,75.94 249.50,81.00 L246.00,81.00 C245.00,91.15 231.90,98.30 230.40,101.30 L230.40,101.30 C228.26,103.60 225.04,103.60 217.00,103.60 C208.96,103.60 205.74,103.60 203.60,101.30 L203.60,101.30 C202.10,98.30 189.00,91.15 188.00,81.00 Z" fill="#9c989c"/>
<path d="M185.50,81.00 C198.30,75.94 207.90,71.80 217.50,71.80 C227.10,71.80 236.70,75.94 249.50,81.00" fill="none" stroke="#d4bc98" stroke-width="0.8"/>
<path d="M230.40,101.30 L230.40,101.30 C228.26,103.60 225.04,103.60 217.00,103.60 C208.96,103.60 205.74,103.60 203.60,101.30" fill="none" stroke="#d4bc98" stroke-width="0.7"/>
<line x1="185.00" y1="101.60" x2="203.60" y2="101.60" stroke="#d4bc98" stroke-width="0.5" opacity="0.6"/>
<line x1="230.40" y1="101.60" x2="250.00" y2="101.60" stroke="#d4bc98" stroke-width="0.5" opacity="0.6"/>
<rect x="185.00" y="67.90" width="65.00" height="49.10" filter="url(#grainv)" style="mix-blend-mode:overlay" opacity="0.4"/>
<text x="186.8" y="113.8" font-size="4.9" fill="#f4f4f4" text-anchor="start" font-weight="bold" >100 V 25 kHz</text>
<rect x="237.65" y="111.00" width="8.45" height="2.5" fill="#eee"/>
</g>
<g clip-path="url(#cp18)">
<rect x="185.00" y="119.00" width="65.00" height="49.30" fill="#2a1410"/>
<polygon points="185.00,129.70 250.00,129.70 250.00,152.00 185.00,152.00" fill="#b4bac6"/>
<path d="M186.50,129.70 C187.76,124.64 202.25,120.50 218.00,120.50 C233.75,120.50 248.24,124.64 249.50,129.70 L243.50,129.70 C242.50,140.85 235.90,149.00 234.40,152.00 L234.40,152.00 C231.67,154.80 227.58,154.80 217.35,154.80 C207.12,154.80 203.03,154.80 200.30,152.00 L201.60,152.00 C200.10,149.00 193.50,140.85 192.50,129.70 Z" fill="#7d787c" filter="url(#blur1)"/>
<path d="M186.50,129.70 C187.76,124.64 202.25,120.50 218.00,120.50 C233.75,120.50 248.24,124.64 249.50,129.70 L243.50,129.70 C242.50,140.85 235.90,149.00 234.40,152.00 L234.40,152.00 C231.67,154.80 227.58,154.80 217.35,154.80 C207.12,154.80 203.03,154.80 200.30,152.00 L201.60,152.00 C200.10,149.00 193.50,140.85 192.50,129.70 Z" fill="#7d787c"/>
<path d="M186.50,129.70 C187.76,124.64 202.25,120.50 218.00,120.50 C233.75,120.50 248.24,124.64 249.50,129.70" fill="none" stroke="#d4bc98" stroke-width="0.8"/>
<path d="M234.40,152.00 L234.40,152.00 C231.67,154.80 227.58,154.80 217.35,154.80 C207.12,154.80 203.03,154.80 200.30,152.00" fill="none" stroke="#d4bc98" stroke-width="0.7"/>
<line x1="185.00" y1="152.30" x2="200.30" y2="152.30" stroke="#d4bc98" stroke-width="0.5" opacity="0.6"/>
<line x1="234.40" y1="152.30" x2="250.00" y2="152.30" stroke="#d4bc98" stroke-width="0.5" opacity="0.6"/>
<rect x="185.00" y="119.00" width="65.00" height="49.30" filter="url(#grainv)" style="mix-blend-mode:overlay" opacity="0.4"/>
<text x="186.8" y="165.2" font-size="4.9" fill="#f4f4f4" text-anchor="start" font-weight="bold" >100 V 30 kHz</text>
<rect x="237.65" y="162.40" width="8.45" height="2.5" fill="#eee"/>
</g>
<g clip-path="url(#cp19)">
<rect x="185.00" y="169.40" width="65.00" height="50.10" fill="#2c1412"/>
<polygon points="185.00,182.00 250.00,182.00 250.00,204.00 185.00,204.00" fill="#b8bcc6"/>
<path d="M186.00,182.00 C195.38,176.72 206.31,173.20 217.25,173.20 C228.19,173.20 239.12,176.72 248.50,182.00 L239.60,182.00 C238.60,193.00 235.90,201.00 234.40,204.00 L234.40,204.00 C231.67,205.60 227.58,205.60 217.35,205.60 C207.12,205.60 203.03,205.60 200.30,204.00 L199.00,204.00 C197.50,201.00 192.20,193.00 191.20,182.00 Z" fill="#9a949a" filter="url(#blur1)"/>
<path d="M186.00,182.00 C195.38,176.72 206.31,173.20 217.25,173.20 C228.19,173.20 239.12,176.72 248.50,182.00 L239.60,182.00 C238.60,193.00 235.90,201.00 234.40,204.00 L234.40,204.00 C231.67,205.60 227.58,205.60 217.35,205.60 C207.12,205.60 203.03,205.60 200.30,204.00 L199.00,204.00 C197.50,201.00 192.20,193.00 191.20,182.00 Z" fill="#9a949a"/>
<path d="M186.00,182.00 C195.38,176.72 206.31,173.20 217.25,173.20 C228.19,173.20 239.12,176.72 248.50,182.00" fill="none" stroke="#d4bc98" stroke-width="0.8"/>
<path d="M234.40,204.00 L234.40,204.00 C231.67,205.60 227.58,205.60 217.35,205.60 C207.12,205.60 203.03,205.60 200.30,204.00" fill="none" stroke="#d4bc98" stroke-width="0.7"/>
<line x1="185.00" y1="204.30" x2="200.30" y2="204.30" stroke="#d4bc98" stroke-width="0.5" opacity="0.6"/>
<line x1="234.40" y1="204.30" x2="250.00" y2="204.30" stroke="#d4bc98" stroke-width="0.5" opacity="0.6"/>
<rect x="185.00" y="169.40" width="65.00" height="50.10" filter="url(#grainv)" style="mix-blend-mode:overlay" opacity="0.4"/>
<text x="186.8" y="216.1" font-size="4.9" fill="#f4f4f4" text-anchor="start" font-weight="bold" >100 V 35 kHz</text>
<rect x="237.65" y="213.30" width="8.45" height="2.5" fill="#eee"/>
</g>
<g clip-path="url(#cp20)">
<rect x="185.00" y="222.10" width="65.00" height="46.90" fill="#2e1613"/>
<polygon points="185.00,233.60 250.00,231.70 250.00,254.00 185.00,254.00" fill="#bcc0c8"/>
<path d="M189.00,233.60 C189.92,227.99 200.50,223.40 212.00,223.40 C229.50,223.40 245.60,227.13 247.00,231.70 L243.50,231.70 C242.50,242.85 238.50,251.00 237.00,254.00 L234.40,254.00 C231.89,256.10 228.12,256.10 218.70,256.10 C209.28,256.10 205.51,256.10 203.00,254.00 L203.00,254.00 C201.50,251.00 194.10,243.80 193.10,233.60 Z" fill="#86705f" filter="url(#blur1)"/>
<path d="M189.00,233.60 C189.92,227.99 200.50,223.40 212.00,223.40 C229.50,223.40 245.60,227.13 247.00,231.70 L243.50,231.70 C242.50,242.85 238.50,251.00 237.00,254.00 L234.40,254.00 C231.89,256.10 228.12,256.10 218.70,256.10 C209.28,256.10 205.51,256.10 203.00,254.00 L203.00,254.00 C201.50,251.00 194.10,243.80 193.10,233.60 Z" fill="#86705f"/>
<path d="M189.00,233.60 C189.92,227.99 200.50,223.40 212.00,223.40 C229.50,223.40 245.60,227.13 247.00,231.70" fill="none" stroke="#d4bc98" stroke-width="0.8"/>
<path d="M237.00,254.00 L234.40,254.00 C231.89,256.10 228.12,256.10 218.70,256.10 C209.28,256.10 205.51,256.10 203.00,254.00" fill="none" stroke="#d4bc98" stroke-width="0.7"/>
<line x1="185.00" y1="254.30" x2="203.00" y2="254.30" stroke="#d4bc98" stroke-width="0.5" opacity="0.6"/>
<line x1="234.40" y1="254.30" x2="250.00" y2="254.30" stroke="#d4bc98" stroke-width="0.5" opacity="0.6"/>
<rect x="185.00" y="222.10" width="65.00" height="46.90" filter="url(#grainv)" style="mix-blend-mode:overlay" opacity="0.4"/>
<text x="186.8" y="268.1" font-size="4.9" fill="#f4f4f4" text-anchor="start" font-weight="bold" >100 V 40 kHz</text>
<rect x="237.65" y="265.30" width="8.45" height="2.5" fill="#eee"/>
</g>
<text x="4.8" y="27.6" font-size="10.6" fill="#222" text-anchor="start" textLength="9.4" lengthAdjust="spacingAndGlyphs" >(a)</text>
<line x1="131.10" y1="15.50" x2="131.10" y2="269.50" stroke="#5a3ff0" stroke-width="1.6" stroke-dasharray="1.6 2.3"/>
<line x1="252.20" y1="10.00" x2="252.20" y2="273.50" stroke="#111" stroke-width="2" />
<line x1="14.60" y1="272.50" x2="543.50" y2="272.50" stroke="#111" stroke-width="2" />
<rect x="255.3" y="8.2" width="287.5" height="260.5" fill="none" stroke="#5a3ff0" stroke-width="1.4" stroke-dasharray="1.3 1.35"/>
<text x="255.8" y="27.4" font-size="11.5" fill="#222" text-anchor="start" textLength="10.6" lengthAdjust="spacingAndGlyphs" >(b)</text>
<rect x="282.5" y="56.0" width="239.5" height="94.19999999999999" fill="none" stroke="#333" stroke-width="1"/>
<rect x="282.5" y="150.2" width="239.5" height="93.20000000000002" fill="none" stroke="#333" stroke-width="1"/>
<line x1="326.70" y1="150.20" x2="326.70" y2="146.70" stroke="#333" stroke-width="0.8" />
<line x1="326.70" y1="243.40" x2="326.70" y2="239.90" stroke="#333" stroke-width="0.8" />
<line x1="371.06" y1="150.20" x2="371.06" y2="146.70" stroke="#333" stroke-width="0.8" />
<line x1="371.06" y1="243.40" x2="371.06" y2="239.90" stroke="#333" stroke-width="0.8" />
<line x1="415.42" y1="150.20" x2="415.42" y2="146.70" stroke="#333" stroke-width="0.8" />
<line x1="415.42" y1="243.40" x2="415.42" y2="239.90" stroke="#333" stroke-width="0.8" />
<line x1="459.79" y1="150.20" x2="459.79" y2="146.70" stroke="#333" stroke-width="0.8" />
<line x1="459.79" y1="243.40" x2="459.79" y2="239.90" stroke="#333" stroke-width="0.8" />
<line x1="504.15" y1="150.20" x2="504.15" y2="146.70" stroke="#333" stroke-width="0.8" />
<line x1="504.15" y1="243.40" x2="504.15" y2="239.90" stroke="#333" stroke-width="0.8" />
<line x1="282.50" y1="56.50" x2="285.50" y2="56.50" stroke="#333" stroke-width="0.8" />
<text x="278.9" y="58.7" font-size="7.0" fill="#333" text-anchor="end" textLength="9.8" lengthAdjust="spacingAndGlyphs" >1.15</text>
<line x1="282.50" y1="69.80" x2="285.50" y2="69.80" stroke="#333" stroke-width="0.8" />
<text x="278.9" y="72.0" font-size="7.0" fill="#333" text-anchor="end" textLength="9.8" lengthAdjust="spacingAndGlyphs" >1.10</text>
<line x1="282.50" y1="83.10" x2="285.50" y2="83.10" stroke="#333" stroke-width="0.8" />
<text x="278.9" y="85.3" font-size="7.0" fill="#333" text-anchor="end" textLength="9.8" lengthAdjust="spacingAndGlyphs" >1.05</text>
<line x1="282.50" y1="96.40" x2="285.50" y2="96.40" stroke="#333" stroke-width="0.8" />
<text x="278.9" y="98.6" font-size="7.0" fill="#333" text-anchor="end" textLength="9.8" lengthAdjust="spacingAndGlyphs" >1.00</text>
<line x1="282.50" y1="109.70" x2="285.50" y2="109.70" stroke="#333" stroke-width="0.8" />
<text x="278.9" y="111.9" font-size="7.0" fill="#333" text-anchor="end" textLength="9.8" lengthAdjust="spacingAndGlyphs" >0.95</text>
<line x1="282.50" y1="123.00" x2="285.50" y2="123.00" stroke="#333" stroke-width="0.8" />
<text x="278.9" y="125.2" font-size="7.0" fill="#333" text-anchor="end" textLength="9.8" lengthAdjust="spacingAndGlyphs" >0.90</text>
<line x1="282.50" y1="136.30" x2="285.50" y2="136.30" stroke="#333" stroke-width="0.8" />
<text x="278.9" y="138.5" font-size="7.0" fill="#333" text-anchor="end" textLength="9.8" lengthAdjust="spacingAndGlyphs" >0.85</text>
<line x1="519.00" y1="66.80" x2="523.00" y2="66.80" stroke="#333" stroke-width="0.8" />
<text x="525.6" y="69.0" font-size="7.0" fill="#333" text-anchor="start" textLength="9.8" lengthAdjust="spacingAndGlyphs" >1.00</text>
<line x1="519.00" y1="87.60" x2="523.00" y2="87.60" stroke="#333" stroke-width="0.8" />
<text x="525.6" y="89.8" font-size="7.0" fill="#333" text-anchor="start" textLength="9.8" lengthAdjust="spacingAndGlyphs" >0.96</text>
<line x1="519.00" y1="108.40" x2="523.00" y2="108.40" stroke="#333" stroke-width="0.8" />
<text x="525.6" y="110.6" font-size="7.0" fill="#333" text-anchor="start" textLength="9.8" lengthAdjust="spacingAndGlyphs" >0.92</text>
<line x1="519.00" y1="129.20" x2="523.00" y2="129.20" stroke="#333" stroke-width="0.8" />
<text x="525.6" y="131.4" font-size="7.0" fill="#333" text-anchor="start" textLength="9.8" lengthAdjust="spacingAndGlyphs" >0.88</text>
<line x1="282.50" y1="165.45" x2="285.50" y2="165.45" stroke="#333" stroke-width="0.8" />
<text x="278.9" y="167.6" font-size="7.0" fill="#333" text-anchor="end" textLength="9.8" lengthAdjust="spacingAndGlyphs" >0.08</text>
<line x1="282.50" y1="181.00" x2="285.50" y2="181.00" stroke="#333" stroke-width="0.8" />
<text x="278.9" y="183.2" font-size="7.0" fill="#333" text-anchor="end" textLength="9.8" lengthAdjust="spacingAndGlyphs" >0.07</text>
<line x1="282.50" y1="196.55" x2="285.50" y2="196.55" stroke="#333" stroke-width="0.8" />
<text x="278.9" y="198.7" font-size="7.0" fill="#333" text-anchor="end" textLength="9.8" lengthAdjust="spacingAndGlyphs" >0.06</text>
<line x1="282.50" y1="212.10" x2="285.50" y2="212.10" stroke="#333" stroke-width="0.8" />
<text x="278.9" y="214.3" font-size="7.0" fill="#333" text-anchor="end" textLength="9.8" lengthAdjust="spacingAndGlyphs" >0.05</text>
<line x1="282.50" y1="227.65" x2="285.50" y2="227.65" stroke="#333" stroke-width="0.8" />
<text x="278.9" y="229.8" font-size="7.0" fill="#333" text-anchor="end" textLength="9.8" lengthAdjust="spacingAndGlyphs" >0.04</text>
<line x1="282.50" y1="243.20" x2="285.50" y2="243.20" stroke="#333" stroke-width="0.8" />
<text x="278.9" y="245.4" font-size="7.0" fill="#333" text-anchor="end" textLength="9.8" lengthAdjust="spacingAndGlyphs" >0.03</text>
<text x="282.3" y="252.8" font-size="6.8" fill="#333" text-anchor="middle" textLength="8.5" lengthAdjust="spacingAndGlyphs" >-25</text>
<text x="326.7" y="252.8" font-size="6.8" fill="#333" text-anchor="middle" textLength="3.3" lengthAdjust="spacingAndGlyphs" >0</text>
<text x="371.1" y="252.8" font-size="6.8" fill="#333" text-anchor="middle" textLength="6.5" lengthAdjust="spacingAndGlyphs" >25</text>
<text x="415.4" y="252.8" font-size="6.8" fill="#333" text-anchor="middle" textLength="6.5" lengthAdjust="spacingAndGlyphs" >50</text>
<text x="459.8" y="252.8" font-size="6.8" fill="#333" text-anchor="middle" textLength="6.5" lengthAdjust="spacingAndGlyphs" >75</text>
<text x="504.1" y="252.8" font-size="6.8" fill="#333" text-anchor="middle" textLength="9.8" lengthAdjust="spacingAndGlyphs" >100</text>
<text x="264.3" y="108.4" font-size="8.8" fill="#222" text-anchor="middle" textLength="46.6" lengthAdjust="spacingAndGlyphs" transform="rotate(-90 264.3 108.4)" >Relative value</text>
<text x="542.2" y="101.5" font-size="8.8" fill="#222" text-anchor="middle" textLength="45.0" lengthAdjust="spacingAndGlyphs" transform="rotate(-90 542.2 101.5)" >Relative value</text>
<text x="264.4" y="201.5" font-size="8.8" fill="#222" text-anchor="middle" textLength="29.0" lengthAdjust="spacingAndGlyphs" transform="rotate(-90 264.4 201.5)" >Variance</text>
<text x="346.2" y="266.9" font-size="8.4" fill="#222" textLength="112.2" lengthAdjust="spacingAndGlyphs">Ultrasonic excitation voltage <tspan font-style="italic">U</tspan> (V)</text>
<polyline points="326.70,96.60 371.06,67.40 415.42,129.80 459.79,137.00 504.15,102.50" stroke="#333" stroke-width="1.0" fill="none" />
<polyline points="326.70,96.60 371.06,75.40 415.42,87.00 459.79,90.60 504.15,90.80" stroke="#ff4a4a" stroke-width="1.0" fill="none" />
<polyline points="326.70,96.60 371.06,90.00 415.42,139.00 459.79,140.40 504.15,107.60" stroke="#4a4aff" stroke-width="1.0" fill="none" />
<polyline points="326.70,66.20 371.06,140.20 415.42,103.00 459.79,89.00 504.15,89.00" stroke="#3a3a3a" stroke-width="1.0" fill="none" />
<rect x="325.20" y="95.10" width="3.0" height="3.0" fill="#fff" stroke="#444" stroke-width="0.8"/>
<rect x="369.56" y="65.90" width="3.0" height="3.0" fill="#fff" stroke="#444" stroke-width="0.8"/>
<rect x="413.92" y="128.30" width="3.0" height="3.0" fill="#fff" stroke="#444" stroke-width="0.8"/>
<rect x="458.29" y="135.50" width="3.0" height="3.0" fill="#fff" stroke="#444" stroke-width="0.8"/>
<rect x="502.65" y="101.00" width="3.0" height="3.0" fill="#fff" stroke="#444" stroke-width="0.8"/>
<circle cx="326.70" cy="96.60" r="1.6" fill="#fff" stroke="#ff4a4a" stroke-width="0.8"/>
<circle cx="371.06" cy="75.40" r="1.6" fill="#fff" stroke="#ff4a4a" stroke-width="0.8"/>
<circle cx="415.42" cy="87.00" r="1.6" fill="#fff" stroke="#ff4a4a" stroke-width="0.8"/>
<circle cx="459.79" cy="90.60" r="1.6" fill="#fff" stroke="#ff4a4a" stroke-width="0.8"/>
<circle cx="504.15" cy="90.80" r="1.6" fill="#fff" stroke="#ff4a4a" stroke-width="0.8"/>
<polygon points="326.70,94.70 328.60,98.12 324.80,98.12" fill="#fff" stroke="#4a4aff" stroke-width="0.8"/>
<polygon points="371.06,88.10 372.96,91.52 369.16,91.52" fill="#fff" stroke="#4a4aff" stroke-width="0.8"/>
<polygon points="415.42,137.10 417.32,140.52 413.52,140.52" fill="#fff" stroke="#4a4aff" stroke-width="0.8"/>
<polygon points="459.79,138.50 461.69,141.92 457.89,141.92" fill="#fff" stroke="#4a4aff" stroke-width="0.8"/>
<polygon points="504.15,105.70 506.05,109.12 502.25,109.12" fill="#fff" stroke="#4a4aff" stroke-width="0.8"/>
<polygon points="326.70,64.00 327.28,65.40 328.79,65.52 327.64,66.51 327.99,67.98 326.70,67.19 325.41,67.98 325.76,66.51 324.61,65.52 326.12,65.40" fill="#fff" stroke="#e070e8" stroke-width="0.8"/>
<polygon points="371.06,138.00 371.64,139.40 373.15,139.52 372.00,140.51 372.36,141.98 371.06,141.19 369.77,141.98 370.12,140.51 368.97,139.52 370.48,139.40" fill="#fff" stroke="#e070e8" stroke-width="0.8"/>
<polygon points="415.42,100.80 416.01,102.20 417.52,102.32 416.37,103.31 416.72,104.78 415.42,103.99 414.13,104.78 414.48,103.31 413.33,102.32 414.84,102.20" fill="#fff" stroke="#e070e8" stroke-width="0.8"/>
<polygon points="459.79,86.80 460.37,88.20 461.88,88.32 460.73,89.31 461.08,90.78 459.79,89.99 458.49,90.78 458.85,89.31 457.70,88.32 459.21,88.20" fill="#fff" stroke="#e070e8" stroke-width="0.8"/>
<polygon points="504.15,86.80 504.73,88.20 506.24,88.32 505.09,89.31 505.44,90.78 504.15,89.99 502.86,90.78 503.21,89.31 502.06,88.32 503.57,88.20" fill="#fff" stroke="#e070e8" stroke-width="0.8"/>
<line x1="303.20" y1="105.60" x2="321.00" y2="105.60" stroke="#333" stroke-width="1" />
<circle cx="311.90" cy="105.60" r="1.5" fill="#fff" stroke="#555" stroke-width="0.8"/>
<text x="322.8" y="108.6" font-size="8.2" fill="#222" text-anchor="start" >area</text>
<line x1="303.20" y1="116.50" x2="321.00" y2="116.50" stroke="#ff4a4a" stroke-width="1" />
<circle cx="311.90" cy="116.50" r="1.5" fill="#fff" stroke="#ff4a4a" stroke-width="0.8"/>
<text x="322.8" y="119.5" font-size="8.2" fill="#222" text-anchor="start" >width</text>
<line x1="303.20" y1="127.40" x2="321.00" y2="127.40" stroke="#4a4aff" stroke-width="1" />
<circle cx="311.90" cy="127.40" r="1.5" fill="#fff" stroke="#4a4aff" stroke-width="0.8"/>
<text x="322.8" y="130.4" font-size="8.2" fill="#222" text-anchor="start" >height</text>
<line x1="287.50" y1="124.80" x2="296.00" y2="124.80" stroke="#333" stroke-width="0.8" />
<polygon points="285.5,124.8 289.2,123.3 289.2,126.3" fill="#222"/>
<line x1="412.60" y1="67.20" x2="430.40" y2="67.20" stroke="#333" stroke-width="1.0" stroke-dasharray="3.5 1.2"/>
<polygon points="421.50,65.00 422.08,66.40 423.59,66.52 422.44,67.51 422.79,68.98 421.50,68.19 420.21,68.98 420.56,67.51 419.41,66.52 420.92,66.40" fill="#fff" stroke="#e070e8" stroke-width="0.8"/>
<text x="432.5" y="70.0" font-size="8.2" fill="#222" text-anchor="start" textLength="45.0" lengthAdjust="spacingAndGlyphs" >power density</text>
<line x1="480.00" y1="68.50" x2="490.00" y2="68.50" stroke="#333" stroke-width="0.8" stroke-dasharray="2 1.2"/>
<polygon points="493,68.5 489.3,66.9 489.3,70.1" fill="#222"/>
<polyline points="326.70,216.40 371.06,225.00 415.42,222.00 459.79,223.70 504.15,224.60" stroke="#444" stroke-width="1.0" fill="none" />
<polyline points="326.70,167.00 371.06,182.30 415.42,181.70 459.79,178.90 504.15,180.90" stroke="#ff4a4a" stroke-width="1.0" fill="none" />
<polyline points="326.70,212.30 371.06,229.40 415.42,205.70 459.79,208.50 504.15,219.50" stroke="#4a4aff" stroke-width="1.0" fill="none" />
<rect x="325.30" y="215.00" width="2.8" height="2.8" fill="#fff" stroke="#444" stroke-width="0.8"/>
<rect x="369.66" y="223.60" width="2.8" height="2.8" fill="#fff" stroke="#444" stroke-width="0.8"/>
<rect x="414.02" y="220.60" width="2.8" height="2.8" fill="#fff" stroke="#444" stroke-width="0.8"/>
<rect x="458.39" y="222.30" width="2.8" height="2.8" fill="#fff" stroke="#444" stroke-width="0.8"/>
<rect x="502.75" y="223.20" width="2.8" height="2.8" fill="#fff" stroke="#444" stroke-width="0.8"/>
<circle cx="326.70" cy="167.00" r="1.6" fill="#fff" stroke="#ff4a4a" stroke-width="0.8"/>
<circle cx="371.06" cy="182.30" r="1.6" fill="#fff" stroke="#ff4a4a" stroke-width="0.8"/>
<circle cx="415.42" cy="181.70" r="1.6" fill="#fff" stroke="#ff4a4a" stroke-width="0.8"/>
<circle cx="459.79" cy="178.90" r="1.6" fill="#fff" stroke="#ff4a4a" stroke-width="0.8"/>
<circle cx="504.15" cy="180.90" r="1.6" fill="#fff" stroke="#ff4a4a" stroke-width="0.8"/>
<polygon points="326.70,210.40 328.60,213.82 324.80,213.82" fill="#fff" stroke="#4a4aff" stroke-width="0.8"/>
<polygon points="371.06,227.50 372.96,230.92 369.16,230.92" fill="#fff" stroke="#4a4aff" stroke-width="0.8"/>
<polygon points="415.42,203.80 417.32,207.22 413.52,207.22" fill="#fff" stroke="#4a4aff" stroke-width="0.8"/>
<polygon points="459.79,206.60 461.69,210.02 457.89,210.02" fill="#fff" stroke="#4a4aff" stroke-width="0.8"/>
<polygon points="504.15,217.60 506.05,221.02 502.25,221.02" fill="#fff" stroke="#4a4aff" stroke-width="0.8"/>
<g clip-path="url(#cp21)">
<rect x="284.3" y="11.8" width="84.1" height="58.0" fill="#262626"/>
<ellipse cx="318" cy="46" rx="42" ry="26" fill="#fff" opacity="0.22" filter="url(#blur3)"/>
<ellipse cx="318" cy="67" rx="26" ry="4" fill="#fff" opacity="0.75" filter="url(#blur2)"/>
<ellipse cx="288" cy="50" rx="5" ry="3" fill="#fff" opacity="0.5" filter="url(#blur2)"/>
<line x1="340" y1="14" x2="368" y2="30" stroke="#fff" stroke-width="0.8" opacity="0.18" filter="url(#blur05)"/>
<line x1="345" y1="12" x2="368" y2="22" stroke="#fff" stroke-width="0.8" opacity="0.15" filter="url(#blur05)"/>
<line x1="300" y1="14" x2="286" y2="30" stroke="#fff" stroke-width="0.8" opacity="0.1" filter="url(#blur05)"/>
<line x1="350" y1="60" x2="368" y2="52" stroke="#fff" stroke-width="0.8" opacity="0.2" filter="url(#blur05)"/>
<path d="M322.80,20.90 C324.80,21.68 327.80,23.65 330.00,26.00 C332.20,28.35 334.08,32.08 336.00,35.00 C337.92,37.92 339.88,40.87 341.50,43.50 C343.12,46.13 345.20,48.63 345.70,50.80 C346.20,52.97 345.45,54.80 344.50,56.50 C343.55,58.20 342.42,59.95 340.00,61.00 C337.58,62.05 333.67,62.43 330.00,62.80 C326.33,63.17 322.17,63.25 318.00,63.20 C313.83,63.15 308.67,63.12 305.00,62.50 C301.33,61.88 298.33,60.92 296.00,59.50 C293.67,58.08 291.95,55.85 291.00,54.00 C290.05,52.15 289.97,49.87 290.30,48.40 C290.63,46.93 291.72,46.00 293.00,45.20 C294.28,44.40 296.58,44.55 298.00,43.60 C299.42,42.65 300.17,41.35 301.50,39.50 C302.83,37.65 304.08,35.00 306.00,32.50 C307.92,30.00 311.00,26.37 313.00,24.50 C315.00,22.63 316.37,21.90 318.00,21.30 C319.63,20.70 320.80,20.12 322.80,20.90 Z" fill="#fff" stroke="#fff" stroke-width="3" opacity="0.6" filter="url(#blur2)"/>
<path d="M322.80,20.90 C324.80,21.68 327.80,23.65 330.00,26.00 C332.20,28.35 334.08,32.08 336.00,35.00 C337.92,37.92 339.88,40.87 341.50,43.50 C343.12,46.13 345.20,48.63 345.70,50.80 C346.20,52.97 345.45,54.80 344.50,56.50 C343.55,58.20 342.42,59.95 340.00,61.00 C337.58,62.05 333.67,62.43 330.00,62.80 C326.33,63.17 322.17,63.25 318.00,63.20 C313.83,63.15 308.67,63.12 305.00,62.50 C301.33,61.88 298.33,60.92 296.00,59.50 C293.67,58.08 291.95,55.85 291.00,54.00 C290.05,52.15 289.97,49.87 290.30,48.40 C290.63,46.93 291.72,46.00 293.00,45.20 C294.28,44.40 296.58,44.55 298.00,43.60 C299.42,42.65 300.17,41.35 301.50,39.50 C302.83,37.65 304.08,35.00 306.00,32.50 C307.92,30.00 311.00,26.37 313.00,24.50 C315.00,22.63 316.37,21.90 318.00,21.30 C319.63,20.70 320.80,20.12 322.80,20.90 Z" fill="#fff"/>
<rect x="284.3" y="11.8" width="84.1" height="58.0" filter="url(#grain)" style="mix-blend-mode:overlay" opacity="0.35"/>
<path d="M322.80,20.90 C324.80,21.68 327.80,23.65 330.00,26.00 C332.20,28.35 334.08,32.08 336.00,35.00 C337.92,37.92 339.88,40.87 341.50,43.50 C343.12,46.13 345.20,48.63 345.70,50.80 C346.20,52.97 345.45,54.80 344.50,56.50 C343.55,58.20 342.42,59.95 340.00,61.00 C337.58,62.05 333.67,62.43 330.00,62.80 C326.33,63.17 322.17,63.25 318.00,63.20 C313.83,63.15 308.67,63.12 305.00,62.50 C301.33,61.88 298.33,60.92 296.00,59.50 C293.67,58.08 291.95,55.85 291.00,54.00 C290.05,52.15 289.97,49.87 290.30,48.40 C290.63,46.93 291.72,46.00 293.00,45.20 C294.28,44.40 296.58,44.55 298.00,43.60 C299.42,42.65 300.17,41.35 301.50,39.50 C302.83,37.65 304.08,35.00 306.00,32.50 C307.92,30.00 311.00,26.37 313.00,24.50 C315.00,22.63 316.37,21.90 318.00,21.30 C319.63,20.70 320.80,20.12 322.80,20.90 Z" fill="none" stroke="#2b8fd6" stroke-width="1" stroke-dasharray="1.3 0.7"/>
<line x1="293.50" y1="50.10" x2="344.00" y2="50.10" stroke="#ff4040" stroke-width="0.9" />
<polygon points="291.6,50.1 295.1,48.6 295.1,51.6" fill="#ff4040"/><polygon points="346,50.1 342.5,48.6 342.5,51.6" fill="#ff4040"/>
<line x1="323.90" y1="24.50" x2="323.90" y2="60.00" stroke="#555" stroke-width="0.8" />
<polygon points="323.9,22.8 322.5,26.3 325.3,26.3" fill="#555"/><polygon points="323.9,62 322.5,58.5 325.3,58.5" fill="#555"/>
<text x="324.4" y="17.4" font-size="6.6" fill="#d8d8d8" text-anchor="middle" textLength="16.0" lengthAdjust="spacingAndGlyphs" font-weight="bold" >height</text>
<text x="300.4" y="29.0" font-size="6.6" fill="#1a7fd0" text-anchor="middle" textLength="11.2" lengthAdjust="spacingAndGlyphs" font-weight="bold" >area</text>
<text x="358.4" y="52.2" font-size="6.6" fill="#ff2020" text-anchor="middle" textLength="13.6" lengthAdjust="spacingAndGlyphs" font-weight="bold" >width</text>
</g>
<rect x="15.6" y="275.6" width="527.4" height="217.2" fill="none" stroke="#f03868" stroke-width="1.4" stroke-dasharray="1.3 1.35"/>
<text x="23.8" y="290.4" font-size="11.5" fill="#222" text-anchor="start" textLength="11.2" lengthAdjust="spacingAndGlyphs" >(c)</text>
<line x1="50.40" y1="283.90" x2="262.80" y2="283.90" stroke="#555" stroke-width="1" />
<line x1="50.40" y1="459.60" x2="262.80" y2="459.60" stroke="#555" stroke-width="1" />
<line x1="50.40" y1="283.90" x2="50.40" y2="459.60" stroke="#555" stroke-width="1" />
<line x1="262.80" y1="283.90" x2="262.80" y2="459.60" stroke="#4646ff" stroke-width="1" />
<line x1="50.40" y1="283.90" x2="52.40" y2="283.90" stroke="#555" stroke-width="0.8" />
<text x="45.9" y="286.4" font-size="7.5" fill="#333" text-anchor="end" textLength="5.9" lengthAdjust="spacingAndGlyphs" >14</text>
<line x1="50.40" y1="313.18" x2="52.40" y2="313.18" stroke="#555" stroke-width="0.8" />
<text x="45.9" y="315.7" font-size="7.5" fill="#333" text-anchor="end" textLength="5.9" lengthAdjust="spacingAndGlyphs" >12</text>
<line x1="50.40" y1="342.47" x2="52.40" y2="342.47" stroke="#555" stroke-width="0.8" />
<text x="45.9" y="345.0" font-size="7.5" fill="#333" text-anchor="end" textLength="5.9" lengthAdjust="spacingAndGlyphs" >10</text>
<line x1="50.40" y1="371.75" x2="52.40" y2="371.75" stroke="#555" stroke-width="0.8" />
<text x="45.9" y="374.2" font-size="7.5" fill="#333" text-anchor="end" textLength="3.0" lengthAdjust="spacingAndGlyphs" >8</text>
<line x1="50.40" y1="401.03" x2="52.40" y2="401.03" stroke="#555" stroke-width="0.8" />
<text x="45.9" y="403.5" font-size="7.5" fill="#333" text-anchor="end" textLength="3.0" lengthAdjust="spacingAndGlyphs" >6</text>
<line x1="50.40" y1="430.32" x2="52.40" y2="430.32" stroke="#555" stroke-width="0.8" />
<text x="45.9" y="432.8" font-size="7.5" fill="#333" text-anchor="end" textLength="3.0" lengthAdjust="spacingAndGlyphs" >4</text>
<line x1="50.40" y1="459.60" x2="52.40" y2="459.60" stroke="#555" stroke-width="0.8" />
<text x="45.9" y="462.1" font-size="7.5" fill="#333" text-anchor="end" textLength="3.0" lengthAdjust="spacingAndGlyphs" >2</text>
<line x1="262.80" y1="283.90" x2="260.80" y2="283.90" stroke="#4646ff" stroke-width="0.8" />
<text x="266.3" y="286.4" font-size="7.5" fill="#333" text-anchor="start" textLength="5.9" lengthAdjust="spacingAndGlyphs" >70</text>
<line x1="262.80" y1="327.82" x2="260.80" y2="327.82" stroke="#4646ff" stroke-width="0.8" />
<text x="266.3" y="330.3" font-size="7.5" fill="#333" text-anchor="start" textLength="5.9" lengthAdjust="spacingAndGlyphs" >60</text>
<line x1="262.80" y1="371.75" x2="260.80" y2="371.75" stroke="#4646ff" stroke-width="0.8" />
<text x="266.3" y="374.2" font-size="7.5" fill="#333" text-anchor="start" textLength="5.9" lengthAdjust="spacingAndGlyphs" >50</text>
<line x1="262.80" y1="415.68" x2="260.80" y2="415.68" stroke="#4646ff" stroke-width="0.8" />
<text x="266.3" y="418.2" font-size="7.5" fill="#333" text-anchor="start" textLength="5.9" lengthAdjust="spacingAndGlyphs" >40</text>
<line x1="262.80" y1="459.60" x2="260.80" y2="459.60" stroke="#4646ff" stroke-width="0.8" />
<text x="266.3" y="462.1" font-size="7.5" fill="#333" text-anchor="start" textLength="5.9" lengthAdjust="spacingAndGlyphs" >30</text>
<line x1="67.30" y1="459.60" x2="67.30" y2="456.60" stroke="#555" stroke-width="0.8" />
<text x="67.3" y="470.0" font-size="7.4" fill="#333" text-anchor="middle" textLength="3.3" lengthAdjust="spacingAndGlyphs" >0</text>
<line x1="111.69" y1="459.60" x2="111.69" y2="456.60" stroke="#555" stroke-width="0.8" />
<text x="111.7" y="470.0" font-size="7.4" fill="#333" text-anchor="middle" textLength="6.6" lengthAdjust="spacingAndGlyphs" >25</text>
<line x1="156.07" y1="459.60" x2="156.07" y2="456.60" stroke="#555" stroke-width="0.8" />
<text x="156.1" y="470.0" font-size="7.4" fill="#333" text-anchor="middle" textLength="6.6" lengthAdjust="spacingAndGlyphs" >50</text>
<line x1="200.46" y1="459.60" x2="200.46" y2="456.60" stroke="#555" stroke-width="0.8" />
<text x="200.5" y="470.0" font-size="7.4" fill="#333" text-anchor="middle" textLength="6.6" lengthAdjust="spacingAndGlyphs" >75</text>
<line x1="244.85" y1="459.60" x2="244.85" y2="456.60" stroke="#555" stroke-width="0.8" />
<text x="244.9" y="470.0" font-size="7.4" fill="#333" text-anchor="middle" textLength="9.8" lengthAdjust="spacingAndGlyphs" >100</text>
<polyline points="67.30,318.60 111.69,326.00 156.07,318.40 200.46,324.30 244.85,333.10" stroke="#444444" stroke-width="0.7" fill="none" />
<polyline points="67.30,334.90 111.69,338.40 156.07,324.30 200.46,346.60 244.85,359.80" stroke="#3a3aff" stroke-width="0.7" fill="none" />
<polyline points="67.30,360.50 111.69,369.60 156.07,349.20 200.46,380.60 244.85,383.50" stroke="#ff3a3a" stroke-width="0.7" fill="none" />
<line x1="67.30" y1="311.40" x2="67.30" y2="325.80" stroke="#444444" stroke-width="0.8" /><line x1="65.90" y1="311.40" x2="68.70" y2="311.40" stroke="#444444" stroke-width="0.8" /><line x1="65.90" y1="325.80" x2="68.70" y2="325.80" stroke="#444444" stroke-width="0.8" />
<circle cx="67.30" cy="318.60" r="0.9" fill="#444444"/>
<line x1="111.69" y1="321.20" x2="111.69" y2="329.60" stroke="#444444" stroke-width="0.8" /><line x1="110.29" y1="321.20" x2="113.09" y2="321.20" stroke="#444444" stroke-width="0.8" /><line x1="110.29" y1="329.60" x2="113.09" y2="329.60" stroke="#444444" stroke-width="0.8" />
<circle cx="111.69" cy="326.00" r="0.9" fill="#444444"/>
<line x1="156.07" y1="316.00" x2="156.07" y2="320.80" stroke="#444444" stroke-width="0.8" /><line x1="154.67" y1="316.00" x2="157.47" y2="316.00" stroke="#444444" stroke-width="0.8" /><line x1="154.67" y1="320.80" x2="157.47" y2="320.80" stroke="#444444" stroke-width="0.8" />
<circle cx="156.07" cy="318.40" r="0.9" fill="#444444"/>
<line x1="200.46" y1="321.30" x2="200.46" y2="327.90" stroke="#444444" stroke-width="0.8" /><line x1="199.06" y1="321.30" x2="201.86" y2="321.30" stroke="#444444" stroke-width="0.8" /><line x1="199.06" y1="327.90" x2="201.86" y2="327.90" stroke="#444444" stroke-width="0.8" />
<circle cx="200.46" cy="324.30" r="0.9" fill="#444444"/>
<line x1="244.85" y1="326.70" x2="244.85" y2="339.70" stroke="#444444" stroke-width="0.8" /><line x1="243.45" y1="326.70" x2="246.25" y2="326.70" stroke="#444444" stroke-width="0.8" /><line x1="243.45" y1="339.70" x2="246.25" y2="339.70" stroke="#444444" stroke-width="0.8" />
<circle cx="244.85" cy="333.10" r="0.9" fill="#444444"/>
<line x1="67.30" y1="344.40" x2="67.30" y2="375.50" stroke="#ff3a3a" stroke-width="0.8" /><line x1="65.90" y1="344.40" x2="68.70" y2="344.40" stroke="#ff3a3a" stroke-width="0.8" /><line x1="65.90" y1="375.50" x2="68.70" y2="375.50" stroke="#ff3a3a" stroke-width="0.8" />
<circle cx="67.30" cy="360.50" r="0.9" fill="#ff3a3a"/>
<line x1="111.69" y1="357.00" x2="111.69" y2="380.80" stroke="#ff3a3a" stroke-width="0.8" /><line x1="110.29" y1="357.00" x2="113.09" y2="357.00" stroke="#ff3a3a" stroke-width="0.8" /><line x1="110.29" y1="380.80" x2="113.09" y2="380.80" stroke="#ff3a3a" stroke-width="0.8" />
<circle cx="111.69" cy="369.60" r="0.9" fill="#ff3a3a"/>
<line x1="156.07" y1="321.30" x2="156.07" y2="376.10" stroke="#ff3a3a" stroke-width="0.8" /><line x1="154.67" y1="321.30" x2="157.47" y2="321.30" stroke="#ff3a3a" stroke-width="0.8" /><line x1="154.67" y1="376.10" x2="157.47" y2="376.10" stroke="#ff3a3a" stroke-width="0.8" />
<circle cx="156.07" cy="349.20" r="0.9" fill="#ff3a3a"/>
<line x1="200.46" y1="366.70" x2="200.46" y2="394.60" stroke="#ff3a3a" stroke-width="0.8" /><line x1="199.06" y1="366.70" x2="201.86" y2="366.70" stroke="#ff3a3a" stroke-width="0.8" /><line x1="199.06" y1="394.60" x2="201.86" y2="394.60" stroke="#ff3a3a" stroke-width="0.8" />
<circle cx="200.46" cy="380.60" r="0.9" fill="#ff3a3a"/>
<line x1="244.85" y1="369.30" x2="244.85" y2="397.60" stroke="#ff3a3a" stroke-width="0.8" /><line x1="243.45" y1="369.30" x2="246.25" y2="369.30" stroke="#ff3a3a" stroke-width="0.8" /><line x1="243.45" y1="397.60" x2="246.25" y2="397.60" stroke="#ff3a3a" stroke-width="0.8" />
<circle cx="244.85" cy="383.50" r="0.9" fill="#ff3a3a"/>
<line x1="67.30" y1="320.50" x2="67.30" y2="348.00" stroke="#3a3aff" stroke-width="0.8" /><line x1="65.90" y1="320.50" x2="68.70" y2="320.50" stroke="#3a3aff" stroke-width="0.8" /><line x1="65.90" y1="348.00" x2="68.70" y2="348.00" stroke="#3a3aff" stroke-width="0.8" />
<circle cx="67.30" cy="334.90" r="0.9" fill="#3a3aff"/>
<line x1="111.69" y1="333.00" x2="111.69" y2="343.70" stroke="#3a3aff" stroke-width="0.8" /><line x1="110.29" y1="333.00" x2="113.09" y2="333.00" stroke="#3a3aff" stroke-width="0.8" /><line x1="110.29" y1="343.70" x2="113.09" y2="343.70" stroke="#3a3aff" stroke-width="0.8" />
<circle cx="111.69" cy="338.40" r="0.9" fill="#3a3aff"/>
<line x1="156.07" y1="312.30" x2="156.07" y2="335.00" stroke="#3a3aff" stroke-width="0.8" /><line x1="154.67" y1="312.30" x2="157.47" y2="312.30" stroke="#3a3aff" stroke-width="0.8" /><line x1="154.67" y1="335.00" x2="157.47" y2="335.00" stroke="#3a3aff" stroke-width="0.8" />
<circle cx="156.07" cy="324.30" r="0.9" fill="#3a3aff"/>
<line x1="200.46" y1="337.40" x2="200.46" y2="355.60" stroke="#3a3aff" stroke-width="0.8" /><line x1="199.06" y1="337.40" x2="201.86" y2="337.40" stroke="#3a3aff" stroke-width="0.8" /><line x1="199.06" y1="355.60" x2="201.86" y2="355.60" stroke="#3a3aff" stroke-width="0.8" />
<circle cx="200.46" cy="346.60" r="0.9" fill="#3a3aff"/>
<line x1="244.85" y1="346.60" x2="244.85" y2="373.30" stroke="#3a3aff" stroke-width="0.8" /><line x1="243.45" y1="346.60" x2="246.25" y2="346.60" stroke="#3a3aff" stroke-width="0.8" /><line x1="243.45" y1="373.30" x2="246.25" y2="373.30" stroke="#3a3aff" stroke-width="0.8" />
<circle cx="244.85" cy="359.80" r="0.9" fill="#3a3aff"/>
<line x1="76.00" y1="406.30" x2="93.00" y2="406.30" stroke="#444444" stroke-width="0.7" /><circle cx="84.50" cy="406.30" r="0.8" fill="#444444"/>
<text x="95.0" y="409.3" font-size="9.2" fill="#222" text-anchor="start" textLength="60.0" lengthAdjust="spacingAndGlyphs" >Upper fusion width</text>
<line x1="76.00" y1="417.50" x2="93.00" y2="417.50" stroke="#ff3a3a" stroke-width="0.7" /><circle cx="84.50" cy="417.50" r="0.8" fill="#ff3a3a"/>
<text x="95.0" y="420.5" font-size="9.2" fill="#222" text-anchor="start" textLength="60.0" lengthAdjust="spacingAndGlyphs" >Lower fusion width</text>
<line x1="76.00" y1="428.50" x2="93.00" y2="428.50" stroke="#3a3aff" stroke-width="0.7" stroke-dasharray="3 2"/><circle cx="84.50" cy="428.50" r="0.8" fill="#3a3aff"/>
<text x="95.0" y="431.5" font-size="9.2" fill="#222" text-anchor="start" textLength="32.0" lengthAdjust="spacingAndGlyphs" >Weld area</text>
<line x1="56.60" y1="316.80" x2="67.00" y2="316.80" stroke="#111" stroke-width="1.6" /><polygon points="51.6,316.8 57.1,314.1 57.1,319.5" fill="#111"/>
<line x1="56.60" y1="364.80" x2="67.00" y2="364.80" stroke="#ff2020" stroke-width="1.6" /><polygon points="51.6,364.8 57.1,362.1 57.1,367.5" fill="#ff2020"/>
<line x1="247.60" y1="351.30" x2="254.60" y2="351.30" stroke="#2020ff" stroke-width="1.6" /><polygon points="259.6,351.3 254.1,348.6 254.1,354.0" fill="#2020ff"/>
<text x="88.7" y="487.9" font-size="10.8" fill="#222" textLength="135.5" lengthAdjust="spacingAndGlyphs">Ultrasonic excitation voltage <tspan font-style="italic">U</tspan>(V)</text>
<g clip-path="url(#cp22)">
<rect x="161.6" y="398.6" width="80.7" height="57.0" fill="#16110d"/>
<rect x="161.6" y="411.8" width="80.7" height="26.2" fill="#a9aab2"/>
<path d="M161.6,411.9 C165,411.2 168,408.8 172,405.8 C178,401.8 190,400.6 200,400.6 C211,400.6 222,401.8 228,405.8 C232,408.8 236,411.2 242.3,411.9 L231,411.9 C229,420 225,430 221.5,435.5 C216,441 207,442.2 200,442.2 C193,442.2 184,441 178.3,436 C175,430 172,420 169.7,411.9 Z" fill="#c29c42" stroke="#f2ecd0" stroke-width="0.8"/>
<rect x="161.6" y="398.6" width="80.7" height="57.0" filter="url(#grain)" style="mix-blend-mode:overlay" opacity="0.3"/>
<line x1="170.00" y1="411.60" x2="231.00" y2="411.60" stroke="#f0e6c8" stroke-width="0.5" />
<text x="202.5" y="410.6" font-size="4.4" fill="#fff" text-anchor="middle" textLength="33.0" lengthAdjust="spacingAndGlyphs" >Upper fusion width</text>
<text x="198.2" y="426.3" font-size="4.4" fill="#fff" text-anchor="middle" textLength="17.0" lengthAdjust="spacingAndGlyphs" >Weld area</text>
<line x1="180.00" y1="438.30" x2="220.00" y2="438.30" stroke="#f0e6c8" stroke-width="0.5" />
<text x="200.8" y="440.5" font-size="4.4" fill="#fff" text-anchor="middle" textLength="32.0" lengthAdjust="spacingAndGlyphs" >Lower fusion width</text>
<rect x="224" y="450" width="10.5" height="3.6" fill="#fff"/>
</g>
<line x1="310.20" y1="284.20" x2="519.20" y2="284.20" stroke="#555" stroke-width="1" />
<line x1="310.20" y1="458.40" x2="519.20" y2="458.40" stroke="#555" stroke-width="1" />
<line x1="310.20" y1="284.20" x2="310.20" y2="458.40" stroke="#555" stroke-width="1" />
<line x1="519.20" y1="284.20" x2="519.20" y2="458.40" stroke="#555" stroke-width="1" />
<line x1="310.20" y1="284.20" x2="312.20" y2="284.20" stroke="#555" stroke-width="0.8" />
<text x="305.7" y="286.7" font-size="7.5" fill="#333" text-anchor="end" textLength="5.9" lengthAdjust="spacingAndGlyphs" >14</text>
<line x1="310.20" y1="313.23" x2="312.20" y2="313.23" stroke="#555" stroke-width="0.8" />
<text x="305.7" y="315.7" font-size="7.5" fill="#333" text-anchor="end" textLength="5.9" lengthAdjust="spacingAndGlyphs" >12</text>
<line x1="310.20" y1="342.27" x2="312.20" y2="342.27" stroke="#555" stroke-width="0.8" />
<text x="305.7" y="344.8" font-size="7.5" fill="#333" text-anchor="end" textLength="5.9" lengthAdjust="spacingAndGlyphs" >10</text>
<line x1="310.20" y1="371.30" x2="312.20" y2="371.30" stroke="#555" stroke-width="0.8" />
<text x="305.7" y="373.8" font-size="7.5" fill="#333" text-anchor="end" textLength="3.0" lengthAdjust="spacingAndGlyphs" >8</text>
<line x1="310.20" y1="400.33" x2="312.20" y2="400.33" stroke="#555" stroke-width="0.8" />
<text x="305.7" y="402.8" font-size="7.5" fill="#333" text-anchor="end" textLength="3.0" lengthAdjust="spacingAndGlyphs" >6</text>
<line x1="310.20" y1="429.37" x2="312.20" y2="429.37" stroke="#555" stroke-width="0.8" />
<text x="305.7" y="431.9" font-size="7.5" fill="#333" text-anchor="end" textLength="3.0" lengthAdjust="spacingAndGlyphs" >4</text>
<line x1="310.20" y1="458.40" x2="312.20" y2="458.40" stroke="#555" stroke-width="0.8" />
<text x="305.7" y="460.9" font-size="7.5" fill="#333" text-anchor="end" textLength="3.0" lengthAdjust="spacingAndGlyphs" >2</text>
<line x1="519.20" y1="284.20" x2="517.20" y2="284.20" stroke="#555" stroke-width="0.8" />
<text x="522.7" y="286.7" font-size="7.5" fill="#333" text-anchor="start" textLength="5.9" lengthAdjust="spacingAndGlyphs" >70</text>
<line x1="519.20" y1="327.75" x2="517.20" y2="327.75" stroke="#555" stroke-width="0.8" />
<text x="522.7" y="330.2" font-size="7.5" fill="#333" text-anchor="start" textLength="5.9" lengthAdjust="spacingAndGlyphs" >60</text>
<line x1="519.20" y1="371.30" x2="517.20" y2="371.30" stroke="#555" stroke-width="0.8" />
<text x="522.7" y="373.8" font-size="7.5" fill="#333" text-anchor="start" textLength="5.9" lengthAdjust="spacingAndGlyphs" >50</text>
<line x1="519.20" y1="414.85" x2="517.20" y2="414.85" stroke="#555" stroke-width="0.8" />
<text x="522.7" y="417.3" font-size="7.5" fill="#333" text-anchor="start" textLength="5.9" lengthAdjust="spacingAndGlyphs" >40</text>
<line x1="519.20" y1="458.40" x2="517.20" y2="458.40" stroke="#555" stroke-width="0.8" />
<text x="522.7" y="460.9" font-size="7.5" fill="#333" text-anchor="start" textLength="5.9" lengthAdjust="spacingAndGlyphs" >30</text>
<line x1="330.80" y1="458.40" x2="330.80" y2="455.40" stroke="#555" stroke-width="0.8" />
<text x="330.8" y="468.4" font-size="7.4" fill="#333" text-anchor="middle" textLength="3.3" lengthAdjust="spacingAndGlyphs" >0</text>
<line x1="351.75" y1="458.40" x2="351.75" y2="455.40" stroke="#555" stroke-width="0.8" />
<text x="351.8" y="468.4" font-size="7.4" fill="#333" text-anchor="middle" textLength="3.3" lengthAdjust="spacingAndGlyphs" >5</text>
<line x1="372.70" y1="458.40" x2="372.70" y2="455.40" stroke="#555" stroke-width="0.8" />
<text x="372.7" y="468.4" font-size="7.4" fill="#333" text-anchor="middle" textLength="6.6" lengthAdjust="spacingAndGlyphs" >10</text>
<line x1="393.65" y1="458.40" x2="393.65" y2="455.40" stroke="#555" stroke-width="0.8" />
<text x="393.7" y="468.4" font-size="7.4" fill="#333" text-anchor="middle" textLength="6.6" lengthAdjust="spacingAndGlyphs" >15</text>
<line x1="414.60" y1="458.40" x2="414.60" y2="455.40" stroke="#555" stroke-width="0.8" />
<text x="414.6" y="468.4" font-size="7.4" fill="#333" text-anchor="middle" textLength="6.6" lengthAdjust="spacingAndGlyphs" >20</text>
<line x1="435.55" y1="458.40" x2="435.55" y2="455.40" stroke="#555" stroke-width="0.8" />
<text x="435.6" y="468.4" font-size="7.4" fill="#333" text-anchor="middle" textLength="6.6" lengthAdjust="spacingAndGlyphs" >25</text>
<line x1="456.50" y1="458.40" x2="456.50" y2="455.40" stroke="#555" stroke-width="0.8" />
<text x="456.5" y="468.4" font-size="7.4" fill="#333" text-anchor="middle" textLength="6.6" lengthAdjust="spacingAndGlyphs" >30</text>
<line x1="477.45" y1="458.40" x2="477.45" y2="455.40" stroke="#555" stroke-width="0.8" />
<text x="477.5" y="468.4" font-size="7.4" fill="#333" text-anchor="middle" textLength="6.6" lengthAdjust="spacingAndGlyphs" >35</text>
<line x1="498.40" y1="458.40" x2="498.40" y2="455.40" stroke="#555" stroke-width="0.8" />
<text x="498.4" y="468.4" font-size="7.4" fill="#333" text-anchor="middle" textLength="6.6" lengthAdjust="spacingAndGlyphs" >40</text>
<polyline points="330.80,318.80 414.60,317.30 435.55,332.30 456.50,333.00 477.45,330.40 498.40,326.30" stroke="#444444" stroke-width="0.7" fill="none" />
<polyline points="330.80,334.80 414.60,334.50 435.55,383.50 456.50,359.50 477.45,361.70 498.40,359.80" stroke="#3a3aff" stroke-width="0.7" fill="none" />
<polyline points="330.80,359.80 414.60,373.70 435.55,393.60 456.50,383.30 477.45,378.00 498.40,378.60" stroke="#ff3a3a" stroke-width="0.7" fill="none" />
<line x1="330.80" y1="311.40" x2="330.80" y2="326.00" stroke="#444444" stroke-width="0.8" /><line x1="329.40" y1="311.40" x2="332.20" y2="311.40" stroke="#444444" stroke-width="0.8" /><line x1="329.40" y1="326.00" x2="332.20" y2="326.00" stroke="#444444" stroke-width="0.8" />
<circle cx="330.80" cy="318.80" r="0.9" fill="#444444"/>
<line x1="414.60" y1="309.60" x2="414.60" y2="325.00" stroke="#444444" stroke-width="0.8" /><line x1="413.20" y1="309.60" x2="416.00" y2="309.60" stroke="#444444" stroke-width="0.8" /><line x1="413.20" y1="325.00" x2="416.00" y2="325.00" stroke="#444444" stroke-width="0.8" />
<circle cx="414.60" cy="317.30" r="0.9" fill="#444444"/>
<line x1="435.55" y1="329.60" x2="435.55" y2="334.00" stroke="#444444" stroke-width="0.8" /><line x1="434.15" y1="329.60" x2="436.95" y2="329.60" stroke="#444444" stroke-width="0.8" /><line x1="434.15" y1="334.00" x2="436.95" y2="334.00" stroke="#444444" stroke-width="0.8" />
<circle cx="435.55" cy="332.30" r="0.9" fill="#444444"/>
<line x1="456.50" y1="326.80" x2="456.50" y2="339.60" stroke="#444444" stroke-width="0.8" /><line x1="455.10" y1="326.80" x2="457.90" y2="326.80" stroke="#444444" stroke-width="0.8" /><line x1="455.10" y1="339.60" x2="457.90" y2="339.60" stroke="#444444" stroke-width="0.8" />
<circle cx="456.50" cy="333.00" r="0.9" fill="#444444"/>
<line x1="477.45" y1="325.00" x2="477.45" y2="335.50" stroke="#444444" stroke-width="0.8" /><line x1="476.05" y1="325.00" x2="478.85" y2="325.00" stroke="#444444" stroke-width="0.8" /><line x1="476.05" y1="335.50" x2="478.85" y2="335.50" stroke="#444444" stroke-width="0.8" />
<circle cx="477.45" cy="330.40" r="0.9" fill="#444444"/>
<line x1="498.40" y1="324.00" x2="498.40" y2="329.00" stroke="#444444" stroke-width="0.8" /><line x1="497.00" y1="324.00" x2="499.80" y2="324.00" stroke="#444444" stroke-width="0.8" /><line x1="497.00" y1="329.00" x2="499.80" y2="329.00" stroke="#444444" stroke-width="0.8" />
<circle cx="498.40" cy="326.30" r="0.9" fill="#444444"/>
<line x1="330.80" y1="344.20" x2="330.80" y2="375.00" stroke="#ff3a3a" stroke-width="0.8" /><line x1="329.40" y1="344.20" x2="332.20" y2="344.20" stroke="#ff3a3a" stroke-width="0.8" /><line x1="329.40" y1="375.00" x2="332.20" y2="375.00" stroke="#ff3a3a" stroke-width="0.8" />
<circle cx="330.80" cy="359.80" r="0.9" fill="#ff3a3a"/>
<line x1="414.60" y1="362.80" x2="414.60" y2="384.00" stroke="#ff3a3a" stroke-width="0.8" /><line x1="413.20" y1="362.80" x2="416.00" y2="362.80" stroke="#ff3a3a" stroke-width="0.8" /><line x1="413.20" y1="384.00" x2="416.00" y2="384.00" stroke="#ff3a3a" stroke-width="0.8" />
<circle cx="414.60" cy="373.70" r="0.9" fill="#ff3a3a"/>
<line x1="435.55" y1="390.00" x2="435.55" y2="398.50" stroke="#ff3a3a" stroke-width="0.8" /><line x1="434.15" y1="390.00" x2="436.95" y2="390.00" stroke="#ff3a3a" stroke-width="0.8" /><line x1="434.15" y1="398.50" x2="436.95" y2="398.50" stroke="#ff3a3a" stroke-width="0.8" />
<circle cx="435.55" cy="393.60" r="0.9" fill="#ff3a3a"/>
<line x1="456.50" y1="369.00" x2="456.50" y2="397.00" stroke="#ff3a3a" stroke-width="0.8" /><line x1="455.10" y1="369.00" x2="457.90" y2="369.00" stroke="#ff3a3a" stroke-width="0.8" /><line x1="455.10" y1="397.00" x2="457.90" y2="397.00" stroke="#ff3a3a" stroke-width="0.8" />
<circle cx="456.50" cy="383.30" r="0.9" fill="#ff3a3a"/>
<line x1="477.45" y1="368.30" x2="477.45" y2="387.60" stroke="#ff3a3a" stroke-width="0.8" /><line x1="476.05" y1="368.30" x2="478.85" y2="368.30" stroke="#ff3a3a" stroke-width="0.8" /><line x1="476.05" y1="387.60" x2="478.85" y2="387.60" stroke="#ff3a3a" stroke-width="0.8" />
<circle cx="477.45" cy="378.00" r="0.9" fill="#ff3a3a"/>
<line x1="498.40" y1="367.70" x2="498.40" y2="391.50" stroke="#ff3a3a" stroke-width="0.8" /><line x1="497.00" y1="367.70" x2="499.80" y2="367.70" stroke="#ff3a3a" stroke-width="0.8" /><line x1="497.00" y1="391.50" x2="499.80" y2="391.50" stroke="#ff3a3a" stroke-width="0.8" />
<circle cx="498.40" cy="378.60" r="0.9" fill="#ff3a3a"/>
<line x1="330.80" y1="320.80" x2="330.80" y2="348.30" stroke="#3a3aff" stroke-width="0.8" /><line x1="329.40" y1="320.80" x2="332.20" y2="320.80" stroke="#3a3aff" stroke-width="0.8" /><line x1="329.40" y1="348.30" x2="332.20" y2="348.30" stroke="#3a3aff" stroke-width="0.8" />
<circle cx="330.80" cy="334.80" r="0.9" fill="#3a3aff"/>
<line x1="414.60" y1="311.30" x2="414.60" y2="356.80" stroke="#3a3aff" stroke-width="0.8" /><line x1="413.20" y1="311.30" x2="416.00" y2="311.30" stroke="#3a3aff" stroke-width="0.8" /><line x1="413.20" y1="356.80" x2="416.00" y2="356.80" stroke="#3a3aff" stroke-width="0.8" />
<circle cx="414.60" cy="334.50" r="0.9" fill="#3a3aff"/>
<line x1="435.55" y1="373.70" x2="435.55" y2="392.30" stroke="#3a3aff" stroke-width="0.8" /><line x1="434.15" y1="373.70" x2="436.95" y2="373.70" stroke="#3a3aff" stroke-width="0.8" /><line x1="434.15" y1="392.30" x2="436.95" y2="392.30" stroke="#3a3aff" stroke-width="0.8" />
<circle cx="435.55" cy="383.50" r="0.9" fill="#3a3aff"/>
<line x1="456.50" y1="346.70" x2="456.50" y2="372.60" stroke="#3a3aff" stroke-width="0.8" /><line x1="455.10" y1="346.70" x2="457.90" y2="346.70" stroke="#3a3aff" stroke-width="0.8" /><line x1="455.10" y1="372.60" x2="457.90" y2="372.60" stroke="#3a3aff" stroke-width="0.8" />
<circle cx="456.50" cy="359.50" r="0.9" fill="#3a3aff"/>
<line x1="477.45" y1="360.40" x2="477.45" y2="362.80" stroke="#3a3aff" stroke-width="0.8" /><line x1="476.05" y1="360.40" x2="478.85" y2="360.40" stroke="#3a3aff" stroke-width="0.8" /><line x1="476.05" y1="362.80" x2="478.85" y2="362.80" stroke="#3a3aff" stroke-width="0.8" />
<circle cx="477.45" cy="361.70" r="0.9" fill="#3a3aff"/>
<line x1="498.40" y1="350.50" x2="498.40" y2="368.50" stroke="#3a3aff" stroke-width="0.8" /><line x1="497.00" y1="350.50" x2="499.80" y2="350.50" stroke="#3a3aff" stroke-width="0.8" /><line x1="497.00" y1="368.50" x2="499.80" y2="368.50" stroke="#3a3aff" stroke-width="0.8" />
<circle cx="498.40" cy="359.80" r="0.9" fill="#3a3aff"/>
<line x1="326.50" y1="405.00" x2="343.50" y2="405.00" stroke="#444444" stroke-width="0.7" /><circle cx="335.00" cy="405.00" r="0.8" fill="#444444"/>
<text x="345.5" y="408.0" font-size="9.2" fill="#222" text-anchor="start" textLength="60.0" lengthAdjust="spacingAndGlyphs" >Upper fusion width</text>
<line x1="326.50" y1="416.20" x2="343.50" y2="416.20" stroke="#ff3a3a" stroke-width="0.7" /><circle cx="335.00" cy="416.20" r="0.8" fill="#ff3a3a"/>
<text x="345.5" y="419.2" font-size="9.2" fill="#222" text-anchor="start" textLength="60.0" lengthAdjust="spacingAndGlyphs" >Lower fusion width</text>
<line x1="326.50" y1="427.20" x2="343.50" y2="427.20" stroke="#3a3aff" stroke-width="0.7" stroke-dasharray="3 2"/><circle cx="335.00" cy="427.20" r="0.8" fill="#3a3aff"/>
<text x="345.5" y="430.2" font-size="9.2" fill="#222" text-anchor="start" textLength="32.0" lengthAdjust="spacingAndGlyphs" >Weld area</text>
<line x1="318.80" y1="314.50" x2="329.00" y2="314.50" stroke="#111" stroke-width="1.6" /><polygon points="313.8,314.5 319.3,311.8 319.3,317.2" fill="#111"/>
<line x1="318.80" y1="375.00" x2="329.00" y2="375.00" stroke="#ff2020" stroke-width="1.6" /><polygon points="313.8,375.0 319.3,372.3 319.3,377.7" fill="#ff2020"/>
<line x1="502.00" y1="360.40" x2="509.50" y2="360.40" stroke="#2020ff" stroke-width="1.6" /><polygon points="514.5,360.4 509.0,357.7 509.0,363.1" fill="#2020ff"/>
<text x="340" y="484.8" font-size="10.8" fill="#222" textLength="148.6" lengthAdjust="spacingAndGlyphs">Ultrasonic excitation frequency <tspan font-style="italic">f</tspan>(kHz)</text>
<text x="34.3" y="378.6" font-size="11" fill="#222" text-anchor="middle" textLength="97.0" lengthAdjust="spacingAndGlyphs" transform="rotate(-90 34.3 378.6)" >Fusion width W(mm)</text>
<text x="281" y="389" font-size="11" fill="#222" text-anchor="middle" transform="rotate(-90 281 389)" textLength="78" lengthAdjust="spacingAndGlyphs">Weld area <tspan font-style="italic">S</tspan>(mm<tspan font-size="7" dy="-4">2</tspan><tspan dy="4">)</tspan></text>
<text x="295.0" y="385.0" font-size="11" fill="#222" text-anchor="middle" textLength="106.0" lengthAdjust="spacingAndGlyphs" transform="rotate(-90 295.0 385.0)" >Fusion width W(mm)</text>
<text x="541" y="378.6" font-size="11" fill="#222" text-anchor="middle" transform="rotate(-90 541 378.6)" textLength="81.6" lengthAdjust="spacingAndGlyphs">Weld area <tspan font-style="italic">S</tspan>(mm<tspan font-size="7" dy="-4">2</tspan><tspan dy="4">)</tspan></text></svg>
</body></html>
